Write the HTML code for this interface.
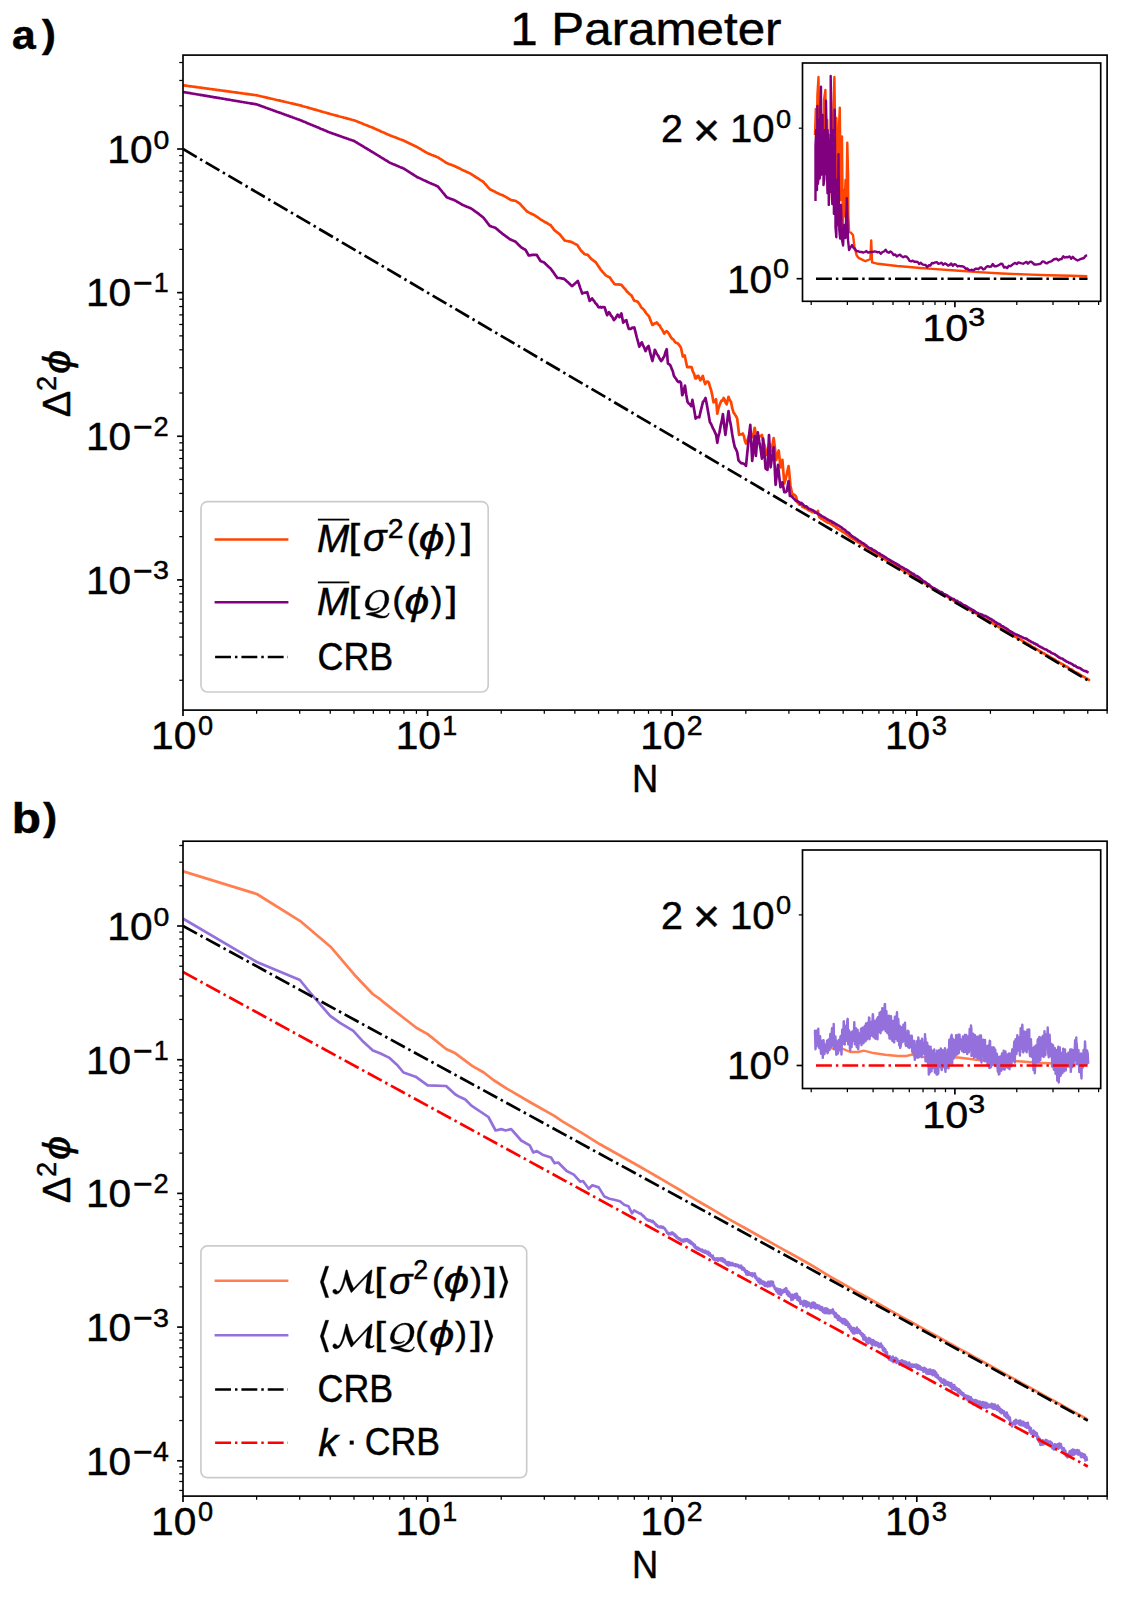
<!DOCTYPE html>
<html><head><meta charset="utf-8"><title>1 Parameter</title>
<style>html,body{margin:0;padding:0;background:#fff;overflow:hidden;}svg{display:block;}
text{font-kerning:none;}</style></head>
<body><svg width="1125" height="1597" viewBox="0 0 1125 1597">
<rect x="0" y="0" width="1125" height="1597" fill="#fff"/>
<text x="510.24" y="45.15" font-size="46.58" textLength="271.27" lengthAdjust="spacingAndGlyphs" style="font-family:&quot;Liberation Sans&quot;,sans-serif;stroke:#000;stroke-width:0.45px;" fill="#000">1 Parameter</text>
<text x="11.95" y="49.00" font-size="41.43" textLength="23.68" lengthAdjust="spacingAndGlyphs" style="font-family:&quot;Liberation Sans&quot;,sans-serif;font-weight:bold;stroke:#000;stroke-width:0.50px;" fill="#000">a</text>
<text x="41.96" y="46.74" font-size="38.84" textLength="13.81" lengthAdjust="spacingAndGlyphs" style="font-family:&quot;Liberation Sans&quot;,sans-serif;font-weight:bold;stroke:#000;stroke-width:0.50px;" fill="#000">)</text>
<text x="11.75" y="832.59" font-size="42.08" textLength="29.21" lengthAdjust="spacingAndGlyphs" style="font-family:&quot;Liberation Sans&quot;,sans-serif;font-weight:bold;stroke:#000;stroke-width:0.50px;" fill="#000">b</text>
<text x="43.36" y="829.87" font-size="38.19" textLength="13.81" lengthAdjust="spacingAndGlyphs" style="font-family:&quot;Liberation Sans&quot;,sans-serif;font-weight:bold;stroke:#000;stroke-width:0.50px;" fill="#000">)</text>
<defs><clipPath id="ca"><rect x="183.00" y="55.10" width="924.10" height="655.00"/></clipPath><clipPath id="cb"><rect x="183.00" y="841.20" width="924.10" height="654.90"/></clipPath><clipPath id="cia"><rect x="802.50" y="63.00" width="298.20" height="238.30"/></clipPath><clipPath id="cib"><rect x="802.50" y="850.00" width="298.20" height="238.50"/></clipPath></defs>
<g clip-path="url(#ca)">
<path d="M183.2,85.3 L184.2,85.4 L185.2,85.6 L186.2,85.7 L187.2,85.8 L188.2,86.0 L189.2,86.1 L190.3,86.3 L191.3,86.4 L192.3,86.5 L193.3,86.7 L194.3,86.8 L195.3,86.9 L196.3,87.1 L197.3,87.2 L198.3,87.4 L199.3,87.5 L200.3,87.6 L201.3,87.8 L202.4,87.9 L203.4,88.0 L204.4,88.2 L205.4,88.3 L206.4,88.5 L207.4,88.6 L208.4,88.7 L209.4,88.9 L210.4,89.0 L211.4,89.1 L212.4,89.3 L213.4,89.4 L214.5,89.5 L215.5,89.7 L216.5,89.8 L217.5,90.0 L218.5,90.1 L219.5,90.2 L220.5,90.4 L221.5,90.5 L222.5,90.6 L223.5,90.8 L224.5,90.9 L225.5,91.1 L226.6,91.2 L227.6,91.3 L228.6,91.5 L229.6,91.6 L230.6,91.7 L231.6,91.9 L232.6,92.0 L233.6,92.1 L234.6,92.3 L235.6,92.4 L236.6,92.6 L237.6,92.7 L238.7,92.8 L239.7,93.0 L240.7,93.1 L241.7,93.2 L242.7,93.4 L243.7,93.5 L244.7,93.7 L245.7,93.8 L246.7,93.9 L247.7,94.1 L248.7,94.2 L249.7,94.3 L250.8,94.5 L251.8,94.6 L252.8,94.8 L253.8,94.9 L254.8,95.0 L255.8,95.2 L256.8,95.3 L257.8,95.5 L258.8,95.8 L259.8,96.0 L260.8,96.2 L261.8,96.5 L262.8,96.7 L263.8,96.9 L264.8,97.2 L265.8,97.4 L266.8,97.6 L267.8,97.9 L268.8,98.1 L269.8,98.3 L270.8,98.6 L271.8,98.8 L272.8,99.0 L273.8,99.3 L274.8,99.5 L275.8,99.7 L276.8,100.0 L277.8,100.2 L278.9,100.4 L279.9,100.6 L280.9,100.9 L281.9,101.1 L282.9,101.3 L283.9,101.6 L284.9,101.8 L285.9,102.0 L286.9,102.3 L287.9,102.5 L288.9,102.7 L289.9,103.0 L290.9,103.2 L291.9,103.4 L292.9,103.7 L293.9,103.9 L294.9,104.1 L295.9,104.4 L296.9,104.6 L297.9,104.8 L298.9,105.1 L299.9,105.3 L300.9,105.6 L301.9,105.9 L302.9,106.2 L304.0,106.5 L305.0,106.8 L306.0,107.0 L307.0,107.3 L308.0,107.6 L309.0,107.9 L310.1,108.2 L311.1,108.5 L312.1,108.8 L313.1,109.1 L314.1,109.4 L315.1,109.7 L316.2,109.9 L317.2,110.2 L318.2,110.5 L319.2,110.8 L320.2,111.1 L321.2,111.4 L322.3,111.7 L323.3,112.0 L324.3,112.3 L325.3,112.5 L326.3,112.8 L327.3,113.1 L328.4,113.4 L329.4,113.7 L330.4,114.0 L331.4,114.3 L332.5,114.5 L333.5,114.8 L334.5,115.1 L335.6,115.4 L336.6,115.6 L337.6,115.9 L338.6,116.2 L339.7,116.5 L340.7,116.7 L341.7,117.0 L342.8,117.3 L343.8,117.6 L344.8,117.8 L345.9,118.1 L346.9,118.4 L347.9,118.7 L348.9,118.9 L350.0,119.2 L351.0,119.5 L352.0,119.8 L353.1,120.0 L354.1,120.3 L355.1,120.7 L356.1,121.1 L357.2,121.5 L358.2,121.9 L359.2,122.3 L360.2,122.7 L361.2,123.1 L362.3,123.5 L363.3,123.9 L364.3,124.4 L365.3,124.8 L366.4,125.2 L367.4,125.6 L368.4,126.0 L369.4,126.4 L370.4,126.8 L371.5,127.2 L372.5,127.6 L373.5,128.0 L374.5,128.5 L375.5,128.9 L376.6,129.4 L377.6,129.8 L378.6,130.3 L379.6,130.7 L380.6,131.2 L381.6,131.7 L382.7,132.1 L383.7,132.6 L384.7,133.0 L385.7,133.5 L386.7,133.9 L387.8,134.4 L388.8,134.8 L389.8,135.3 L390.8,135.7 L391.8,136.1 L392.8,136.5 L393.9,136.8 L394.9,137.2 L395.9,137.6 L396.9,138.0 L397.9,138.4 L398.9,138.8 L399.9,139.2 L401.0,139.5 L402.0,139.9 L403.0,140.3 L404.0,140.7 L405.0,141.2 L406.1,141.7 L407.1,142.2 L408.2,142.7 L409.2,143.2 L410.2,143.7 L411.3,144.2 L412.3,144.7 L413.4,145.2 L414.4,145.7 L415.5,146.2 L416.5,146.7 L417.5,147.3 L418.5,147.9 L419.6,148.5 L420.6,149.1 L421.6,149.7 L422.6,150.3 L423.6,150.9 L424.6,151.5 L425.7,152.1 L426.7,152.7 L427.7,153.3 L428.7,153.7 L429.7,154.1 L430.7,154.5 L431.7,154.9 L432.8,155.3 L433.8,155.7 L434.8,156.1 L435.8,156.5 L436.8,156.9 L437.8,157.3 L438.8,157.9 L439.8,158.6 L440.8,159.2 L441.8,159.9 L442.8,160.5 L443.8,161.2 L444.8,161.8 L445.8,162.5 L446.8,163.1 L447.8,163.5 L448.8,163.9 L449.8,164.3 L450.9,164.6 L451.9,165.0 L452.9,165.4 L453.9,165.8 L454.9,166.2 L456.0,166.7 L457.0,167.3 L458.1,167.8 L459.2,168.3 L460.3,168.8 L461.3,169.4 L462.4,169.9 L463.4,170.4 L464.4,170.8 L465.4,171.3 L466.4,171.8 L467.5,172.2 L468.5,172.7 L469.5,173.1 L470.5,173.6 L471.6,174.3 L472.8,175.1 L473.9,175.8 L475.0,176.5 L476.2,177.3 L477.3,178.0 L478.4,178.7 L479.4,179.4 L480.5,180.1 L481.5,180.7 L482.6,181.4 L483.6,182.1 L484.6,183.3 L485.7,184.5 L486.7,185.6 L487.7,186.8 L488.8,188.0 L489.8,189.2 L490.9,189.7 L491.9,190.3 L493.0,190.8 L494.0,191.3 L495.1,191.8 L496.1,192.4 L497.2,192.9 L498.3,193.4 L499.3,193.9 L500.4,194.4 L501.5,194.8 L502.6,195.3 L503.6,195.8 L504.7,196.3 L505.7,196.9 L506.8,197.5 L507.8,198.2 L508.8,198.8 L509.9,199.4 L510.9,200.0 L511.9,200.2 L512.9,200.4 L513.9,200.6 L514.9,200.8 L515.9,201.0 L517.1,201.8 L518.4,202.7 L519.6,203.5 L520.7,204.7 L521.7,205.8 L522.8,207.0 L523.9,208.1 L525.0,209.3 L526.0,210.4 L527.1,211.6 L528.2,212.1 L529.2,212.7 L530.3,213.2 L531.4,213.7 L532.5,214.2 L533.5,214.8 L534.6,215.3 L535.7,216.0 L536.7,216.7 L537.8,217.4 L538.8,218.2 L539.9,218.9 L540.9,219.6 L542.0,220.3 L543.1,220.9 L544.2,221.6 L545.3,222.2 L546.4,222.8 L547.5,223.4 L548.6,224.1 L549.7,224.7 L550.8,225.3 L551.9,226.9 L553.1,228.4 L554.2,230.0 L555.3,230.9 L556.4,231.8 L557.6,232.6 L558.7,233.5 L559.8,234.4 L560.8,235.6 L561.8,236.9 L562.8,238.1 L563.8,239.4 L564.8,240.6 L565.8,240.8 L566.9,241.0 L567.9,241.2 L568.9,241.4 L570.0,241.6 L571.0,241.8 L572.0,242.3 L573.1,242.8 L574.1,243.4 L575.1,243.9 L576.2,244.4 L577.2,244.9 L578.4,246.8 L579.7,248.6 L580.9,250.5 L582.2,251.8 L583.4,253.0 L584.7,254.3 L585.7,254.5 L586.8,254.7 L587.8,254.9 L588.8,256.1 L589.9,257.4 L590.9,258.6 L591.9,259.4 L592.9,260.1 L593.9,260.9 L594.9,261.6 L595.9,262.4 L597.1,264.2 L598.3,266.1 L599.6,267.9 L600.8,269.8 L601.8,270.9 L602.8,272.1 L603.8,273.2 L604.8,274.3 L605.8,275.4 L607.1,276.1 L608.3,276.7 L609.6,277.3 L610.8,278.9 L612.0,280.7 L613.3,282.5 L614.5,284.1 L615.6,284.3 L616.8,284.5 L618.0,284.3 L619.1,284.6 L620.2,284.6 L621.4,284.8 L622.5,286.2 L623.6,287.6 L624.8,288.7 L625.9,290.1 L627.0,291.6 L628.1,292.4 L629.1,293.7 L630.2,294.5 L631.3,295.3 L632.3,297.0 L633.4,299.2 L634.4,300.9 L635.5,300.9 L636.5,301.4 L637.6,301.6 L638.6,303.0 L639.7,304.5 L640.7,306.5 L641.8,308.0 L642.8,308.6 L643.9,309.8 L644.9,311.2 L646.0,313.0 L647.0,314.3 L648.1,315.2 L649.2,316.8 L650.3,319.9 L651.3,322.2 L652.4,324.9 L653.5,324.4 L654.5,323.4 L655.6,323.5 L656.7,322.4 L657.7,323.6 L658.8,325.0 L659.8,325.5 L660.9,328.0 L662.0,329.3 L663.1,331.4 L664.2,333.6 L665.5,332.0 L666.7,331.1 L667.8,332.2 L668.9,333.7 L669.9,335.5 L671.0,337.3 L672.3,338.9 L673.5,339.6 L674.8,341.7 L676.0,342.8 L677.3,343.1 L678.5,344.2 L679.8,345.8 L681.0,347.9 L682.8,356.6 L684.7,355.4 L686.0,361.8 L687.2,367.2 L688.3,367.2 L689.4,366.9 L690.5,367.2 L691.6,367.2 L692.8,371.3 L694.1,373.9 L695.3,378.4 L696.3,378.4 L697.4,375.9 L698.4,375.9 L700.3,380.3 L701.5,378.6 L702.8,375.9 L704.0,380.6 L705.2,384.0 L706.5,381.9 L707.7,381.5 L709.0,383.0 L710.0,387.0 L711.1,390.0 L712.4,395.9 L713.6,402.4 L714.9,401.0 L716.1,399.3 L717.3,413.6 L718.3,409.1 L719.4,405.6 L720.4,403.0 L721.5,400.7 L722.5,400.6 L723.6,398.0 L724.6,399.5 L725.7,402.7 L726.7,404.3 L728.5,396.8 L729.8,400.2 L731.0,401.8 L732.2,408.0 L733.5,412.4 L734.7,414.1 L736.0,416.2 L737.2,418.6 L739.1,434.8 L740.3,434.4 L741.6,434.5 L742.8,433.5 L743.9,436.0 L744.9,440.7 L746.0,443.5 L747.2,440.8 L748.5,437.6 L749.7,433.5 L751.0,434.3 L752.2,437.2 L753.5,433.5 L754.7,427.9 L756.5,437.2 L757.5,436.1 L758.6,436.4 L759.6,436.6 L760.8,436.0 L761.9,435.0 L763.1,440.9 L764.4,444.9 L765.6,449.5 L766.8,454.9 L768.0,450.2 L769.3,443.7 L771.2,451.2 L772.5,444.7 L773.7,438.1 L775.0,448.6 L776.2,459.9 L777.5,454.8 L778.7,450.5 L780.5,467.3 L782.4,459.9 L784.3,483.5 L786.1,477.3 L787.4,471.0 L788.6,466.1 L790.5,486.0 L792.4,494.7 L793.6,494.4 L794.9,495.2 L796.1,496.6 L797.3,502.2 L798.3,503.4 L799.4,504.7 L800.5,504.2 L801.5,504.9 L802.5,507.0 L803.6,507.2 L804.7,507.9 L805.8,508.3 L806.9,508.8 L808.0,509.7 L809.0,510.5 L810.1,510.8 L811.2,511.4 L812.3,512.1 L813.4,512.0 L814.5,512.7 L815.5,512.3 L816.6,512.8 L817.9,510.9 L819.1,517.1 L820.2,517.8 L821.4,518.8 L822.5,519.1 L823.7,520.2 L824.9,521.0 L826.0,521.5 L827.0,522.1 L828.1,522.7 L829.1,522.8 L830.1,523.5 L831.2,523.9 L832.2,524.6 L833.3,525.5 L834.3,525.9 L835.4,526.7 L836.4,527.8 L837.5,528.4 L838.5,529.2 L839.6,529.6 L840.7,530.3 L841.7,531.1 L842.8,531.9 L843.9,532.5 L844.9,533.2 L846.0,534.0 L847.0,534.5 L848.1,535.4 L849.2,536.5 L850.2,537.2 L851.3,537.7 L852.3,538.4 L853.3,539.0 L854.4,539.6 L855.4,540.1 L856.4,540.8 L857.4,541.8 L858.4,542.5 L859.4,542.8 L860.5,543.7 L861.5,544.4 L862.5,545.0 L863.5,545.6 L864.5,546.3 L865.5,546.7 L866.6,547.6 L867.6,548.0 L868.6,548.8 L869.6,549.6 L870.6,550.2 L871.6,550.6 L872.7,551.6 L873.7,552.1 L874.7,552.7 L875.7,553.0 L876.7,554.0 L877.7,554.5 L878.8,555.4 L879.8,555.9 L880.8,556.8 L881.8,557.3 L882.8,558.1 L883.8,558.5 L884.9,559.3 L885.9,560.0 L886.9,560.5 L887.9,561.3 L888.9,561.6 L889.9,562.5 L890.9,563.2 L892.0,563.7 L893.0,564.5 L894.0,565.1 L895.0,565.4 L896.0,566.0 L897.0,566.4 L898.0,567.4 L899.0,568.1 L900.0,568.4 L901.1,569.2 L902.1,569.8 L903.1,570.4 L904.1,570.7 L905.1,571.7 L906.1,572.2 L907.1,572.8 L908.1,573.3 L909.1,574.0 L910.2,574.7 L911.2,575.2 L912.2,575.9 L913.2,576.1 L914.2,576.8 L915.2,577.6 L916.2,578.3 L917.2,578.7 L918.2,579.6 L919.3,580.1 L920.3,580.4 L921.3,581.3 L922.3,581.7 L923.3,582.2 L924.3,582.9 L925.3,583.6 L926.3,584.1 L927.3,584.8 L928.4,585.3 L929.4,586.1 L930.4,586.7 L931.4,587.5 L932.4,588.0 L933.4,588.7 L934.5,589.1 L935.5,590.1 L936.6,590.1 L937.6,591.0 L938.7,591.5 L939.8,592.2 L940.8,592.6 L941.9,593.7 L942.9,594.0 L944.0,594.4 L945.0,595.3 L946.0,596.0 L947.0,596.2 L948.0,597.1 L949.0,597.6 L950.0,598.3 L951.0,599.1 L952.0,599.6 L953.0,600.0 L954.0,600.8 L955.0,601.3 L956.0,601.7 L957.0,602.4 L958.0,602.7 L959.0,603.6 L960.0,604.2 L961.0,605.0 L962.0,605.6 L963.0,606.0 L964.0,606.4 L965.0,607.3 L966.0,607.4 L967.0,608.0 L968.0,608.9 L969.0,609.4 L970.0,610.1 L971.0,610.4 L972.0,611.3 L973.0,612.0 L974.0,612.3 L975.0,612.9 L976.0,613.4 L977.0,614.0 L978.0,615.0 L979.0,615.2 L980.0,616.2 L981.0,616.5 L982.0,617.3 L983.0,617.7 L984.0,618.1 L985.0,619.1 L986.0,619.4 L987.0,619.9 L988.0,620.5 L989.0,621.5 L990.0,621.7 L991.0,622.2 L992.0,622.9 L993.0,623.5 L994.0,623.9 L995.0,624.8 L996.0,625.2 L997.0,625.7 L998.0,626.6 L999.0,627.2 L1000.0,627.3 L1001.0,628.2 L1002.0,628.7 L1003.0,629.6 L1004.0,630.1 L1005.0,630.6 L1006.0,631.0 L1007.0,631.6 L1008.0,632.1 L1009.0,633.2 L1010.0,633.4 L1011.0,634.2 L1012.0,634.7 L1013.0,635.3 L1014.0,635.9 L1015.0,636.6 L1016.0,636.8 L1017.0,637.6 L1018.0,638.4 L1019.0,638.7 L1020.0,639.4 L1021.0,639.9 L1022.0,640.4 L1023.0,641.2 L1024.0,641.7 L1025.0,642.2 L1026.0,643.0 L1027.0,643.5 L1028.0,643.8 L1029.0,644.7 L1030.0,645.1 L1031.0,645.8 L1032.0,646.7 L1033.0,647.2 L1034.0,647.6 L1035.0,647.9 L1036.0,648.9 L1037.0,649.3 L1038.0,650.0 L1039.0,650.7 L1040.0,651.2 L1041.0,651.7 L1042.0,652.3 L1043.0,653.1 L1044.0,653.4 L1045.0,654.0 L1046.0,654.9 L1047.0,655.1 L1048.0,655.7 L1049.0,656.6 L1050.0,656.7 L1051.0,657.8 L1052.0,658.3 L1053.0,658.8 L1054.0,659.3 L1055.0,659.8 L1056.0,660.7 L1057.0,661.4 L1058.0,661.5 L1059.0,662.3 L1060.0,662.9 L1061.0,663.5 L1062.0,663.9 L1063.0,664.4 L1064.0,665.3 L1065.0,665.8 L1066.0,666.6 L1067.0,666.7 L1068.0,667.4 L1069.0,668.3 L1070.0,668.9 L1071.0,669.4 L1072.0,669.6 L1073.0,670.6 L1074.0,671.4 L1075.0,672.0 L1076.0,672.4 L1077.0,672.9 L1078.0,673.2 L1079.0,674.2 L1080.0,674.5 L1081.0,675.3 L1082.0,676.1 L1083.0,676.5 L1084.0,676.8 L1085.0,677.4 L1086.0,678.4 L1087.0,678.5 L1088.0,679.4 L1089.0,679.9 L1088.0,679.7" fill="none" stroke="#ff4500" stroke-width="2.70" stroke-linejoin="round" stroke-linecap="butt"/>
<path d="M183.2,92.0 L184.2,92.2 L185.2,92.3 L186.2,92.5 L187.2,92.7 L188.2,92.8 L189.2,93.0 L190.3,93.2 L191.3,93.4 L192.3,93.5 L193.3,93.7 L194.3,93.9 L195.3,94.0 L196.3,94.2 L197.3,94.4 L198.3,94.5 L199.3,94.7 L200.3,94.9 L201.3,95.1 L202.4,95.2 L203.4,95.4 L204.4,95.6 L205.4,95.7 L206.4,95.9 L207.4,96.1 L208.4,96.2 L209.4,96.4 L210.4,96.6 L211.4,96.8 L212.4,96.9 L213.4,97.1 L214.5,97.3 L215.5,97.4 L216.5,97.6 L217.5,97.8 L218.5,97.9 L219.5,98.1 L220.5,98.3 L221.5,98.5 L222.5,98.6 L223.5,98.8 L224.5,99.0 L225.5,99.1 L226.6,99.3 L227.6,99.5 L228.6,99.6 L229.6,99.8 L230.6,100.0 L231.6,100.2 L232.6,100.3 L233.6,100.5 L234.6,100.7 L235.6,100.8 L236.6,101.0 L237.6,101.2 L238.7,101.3 L239.7,101.5 L240.7,101.7 L241.7,101.9 L242.7,102.0 L243.7,102.2 L244.7,102.4 L245.7,102.5 L246.7,102.7 L247.7,102.9 L248.7,103.0 L249.7,103.2 L250.8,103.4 L251.8,103.6 L252.8,103.7 L253.8,103.9 L254.8,104.1 L255.8,104.2 L256.8,104.4 L257.8,104.8 L258.8,105.1 L259.8,105.5 L260.8,105.9 L261.8,106.2 L262.8,106.6 L263.8,106.9 L264.8,107.3 L265.8,107.7 L266.8,108.0 L267.8,108.4 L268.8,108.8 L269.8,109.1 L270.8,109.5 L271.8,109.8 L272.8,110.2 L273.8,110.6 L274.8,110.9 L275.8,111.3 L276.8,111.7 L277.8,112.0 L278.9,112.4 L279.9,112.7 L280.9,113.1 L281.9,113.5 L282.9,113.8 L283.9,114.2 L284.9,114.6 L285.9,114.9 L286.9,115.3 L287.9,115.6 L288.9,116.0 L289.9,116.4 L290.9,116.7 L291.9,117.1 L292.9,117.5 L293.9,117.8 L294.9,118.2 L295.9,118.5 L296.9,118.9 L297.9,119.3 L298.9,119.6 L299.9,120.0 L300.9,120.4 L301.9,120.8 L302.9,121.3 L304.0,121.7 L305.0,122.1 L306.0,122.5 L307.0,123.0 L308.0,123.4 L309.0,123.8 L310.1,124.2 L311.1,124.7 L312.1,125.1 L313.1,125.5 L314.1,125.9 L315.1,126.3 L316.2,126.8 L317.2,127.2 L318.2,127.6 L319.2,128.0 L320.2,128.5 L321.2,128.9 L322.3,129.3 L323.3,129.7 L324.3,130.2 L325.3,130.6 L326.3,131.0 L327.3,131.4 L328.4,131.9 L329.4,132.3 L330.4,132.7 L331.4,133.1 L332.5,133.4 L333.5,133.8 L334.5,134.1 L335.6,134.5 L336.6,134.9 L337.6,135.2 L338.6,135.6 L339.7,135.9 L340.7,136.3 L341.7,136.7 L342.8,137.0 L343.8,137.4 L344.8,137.8 L345.9,138.1 L346.9,138.5 L347.9,138.8 L348.9,139.2 L350.0,139.6 L351.0,139.9 L352.0,140.3 L353.1,140.6 L354.1,141.0 L355.1,141.6 L356.1,142.2 L357.2,142.8 L358.2,143.5 L359.2,144.1 L360.2,144.7 L361.2,145.3 L362.3,145.9 L363.3,146.5 L364.3,147.2 L365.3,147.8 L366.4,148.4 L367.4,149.0 L368.4,149.6 L369.4,150.2 L370.4,150.9 L371.5,151.5 L372.5,152.1 L373.5,152.7 L374.5,153.3 L375.5,153.9 L376.6,154.6 L377.6,155.2 L378.6,155.8 L379.6,156.4 L380.6,157.1 L381.6,157.7 L382.7,158.3 L383.7,158.9 L384.7,159.6 L385.7,160.2 L386.7,160.8 L387.8,161.4 L388.8,162.1 L389.8,162.7 L390.8,163.1 L391.8,163.6 L392.8,164.0 L393.9,164.4 L394.9,164.8 L395.9,165.3 L396.9,165.7 L397.9,166.1 L398.9,166.6 L399.9,167.0 L401.0,167.4 L402.0,167.8 L403.0,168.3 L404.0,168.7 L405.0,169.4 L406.1,170.0 L407.1,170.7 L408.2,171.4 L409.2,172.0 L410.2,172.7 L411.3,173.4 L412.3,174.0 L413.4,174.7 L414.4,175.4 L415.5,176.0 L416.5,176.7 L417.5,177.2 L418.5,177.7 L419.6,178.1 L420.6,178.6 L421.6,179.1 L422.6,179.6 L423.6,180.1 L424.6,180.6 L425.7,181.0 L426.7,181.5 L427.7,182.0 L428.7,182.4 L429.7,182.9 L430.7,183.3 L431.7,183.8 L432.8,184.2 L433.8,184.6 L434.8,185.1 L435.8,185.5 L436.8,186.0 L437.8,186.4 L438.8,187.6 L439.8,188.8 L440.8,190.0 L441.8,191.2 L442.8,192.5 L443.8,193.7 L444.8,194.9 L445.8,196.1 L446.8,197.3 L447.8,197.7 L448.8,198.1 L449.8,198.5 L450.9,198.9 L451.9,199.2 L452.9,199.6 L453.9,200.0 L454.9,200.4 L456.0,201.0 L457.0,201.7 L458.1,202.3 L459.2,202.9 L460.3,203.5 L461.3,204.2 L462.4,204.8 L463.5,205.3 L464.6,205.7 L465.7,206.2 L466.8,206.7 L467.8,207.1 L468.9,207.6 L470.0,208.0 L471.1,208.5 L472.1,209.2 L473.2,209.9 L474.2,210.7 L475.2,211.4 L476.3,212.1 L477.3,212.8 L478.4,213.6 L479.4,214.5 L480.5,215.3 L481.5,216.1 L482.6,217.0 L483.6,217.8 L484.6,219.2 L485.7,220.5 L486.7,221.9 L487.7,223.2 L488.8,224.6 L489.8,225.9 L490.9,226.3 L492.0,226.7 L493.2,227.0 L494.3,227.4 L495.4,227.8 L496.5,228.8 L497.7,229.7 L498.8,230.7 L499.9,231.7 L501.1,232.6 L502.2,233.6 L503.3,234.4 L504.4,235.2 L505.5,236.0 L506.7,236.9 L507.8,237.7 L508.9,238.5 L510.0,239.3 L511.1,239.8 L512.2,240.3 L513.4,240.8 L514.5,241.3 L515.6,241.8 L516.7,242.9 L517.8,244.0 L519.0,245.2 L520.1,246.3 L521.2,247.4 L522.3,248.0 L523.4,248.7 L524.5,249.3 L525.6,249.9 L526.6,251.8 L527.7,253.6 L528.7,255.5 L529.9,255.3 L531.2,255.1 L532.4,254.9 L533.5,254.9 L534.6,254.9 L535.7,254.9 L536.8,254.9 L538.0,257.0 L539.3,259.0 L540.5,261.1 L541.7,261.6 L543.0,262.1 L544.2,262.6 L545.4,263.7 L546.5,264.8 L547.7,265.9 L548.8,267.0 L550.0,268.0 L551.1,269.2 L552.1,270.6 L553.2,272.1 L554.2,273.6 L555.2,275.1 L556.3,276.4 L557.3,277.9 L558.3,278.0 L559.4,278.0 L560.4,278.2 L561.4,278.3 L562.5,278.6 L563.5,278.5 L564.6,279.4 L565.7,280.2 L566.8,281.4 L567.9,282.1 L568.9,283.2 L570.0,284.1 L571.1,285.3 L572.2,286.0 L573.3,285.0 L574.4,284.1 L575.6,282.9 L576.7,282.0 L577.8,281.0 L578.9,284.0 L580.0,287.4 L581.1,290.4 L582.2,293.5 L583.2,293.0 L584.2,292.8 L585.2,292.6 L586.2,292.6 L587.2,292.2 L588.4,296.3 L589.6,300.9 L590.9,299.8 L592.1,298.4 L593.1,300.0 L594.2,301.0 L595.2,303.0 L596.3,303.9 L597.4,305.4 L598.4,307.2 L599.4,307.3 L600.5,306.9 L601.5,307.6 L602.5,307.2 L603.6,307.0 L604.6,307.2 L605.9,311.5 L607.1,315.2 L608.9,312.1 L609.9,313.2 L610.9,315.6 L611.9,316.4 L612.9,318.2 L613.9,320.2 L615.1,318.9 L616.4,316.7 L617.6,314.6 L619.5,317.1 L621.4,313.4 L623.2,322.7 L624.3,321.5 L625.3,320.5 L626.4,320.2 L627.6,325.2 L628.8,328.9 L629.9,328.8 L631.0,328.8 L632.1,327.5 L633.2,327.9 L634.3,327.4 L635.5,332.1 L636.8,337.3 L638.0,341.6 L639.3,346.7 L640.5,344.2 L641.8,342.3 L643.0,345.4 L644.3,347.8 L645.5,351.0 L646.5,349.1 L647.6,347.0 L648.6,346.0 L649.9,351.6 L651.1,356.3 L652.4,361.0 L653.6,356.0 L654.8,349.8 L655.8,351.5 L656.9,354.2 L658.0,355.4 L659.0,357.4 L660.0,359.3 L661.1,361.0 L662.1,360.0 L663.2,357.9 L664.2,356.6 L665.5,352.1 L666.7,349.2 L667.9,363.5 L669.8,364.7 L670.8,366.3 L671.8,369.1 L672.8,371.3 L673.8,375.5 L674.8,377.2 L676.0,378.8 L677.3,381.0 L678.5,382.1 L679.8,381.4 L681.0,382.8 L682.2,395.2 L682.5,394.9 L683.8,390.2 L685.0,385.6 L686.2,394.5 L687.5,401.8 L688.7,403.5 L690.0,404.5 L691.2,406.1 L692.4,399.9 L693.5,406.1 L694.5,411.5 L695.6,418.6 L696.8,417.4 L698.1,417.0 L699.3,417.3 L700.5,411.9 L701.8,406.7 L703.0,401.8 L704.2,400.7 L705.5,398.0 L706.6,403.3 L707.7,409.6 L708.8,415.7 L709.9,422.3 L710.9,423.6 L712.0,426.0 L713.0,428.5 L714.0,430.0 L715.1,432.7 L716.1,434.8 L717.3,442.8 L718.4,436.1 L719.5,432.3 L720.7,425.4 L721.8,420.9 L722.9,414.2 L724.1,424.9 L725.4,434.8 L726.4,427.3 L727.5,418.9 L728.5,411.1 L729.8,420.0 L731.0,426.1 L732.3,434.8 L733.5,441.4 L734.8,447.2 L736.0,449.2 L737.2,452.2 L738.5,460.3 L739.7,461.7 L741.0,462.9 L742.2,463.4 L743.5,463.5 L744.7,464.4 L746.0,465.9 L747.1,454.6 L748.1,444.8 L749.2,434.1 L750.3,424.8 L752.2,460.9 L753.5,448.2 L754.7,436.0 L755.9,455.9 L757.8,432.3 L759.2,441.5 L760.6,448.7 L761.9,458.6 L763.1,438.7 L764.4,453.4 L765.6,468.6 L767.5,469.8 L769.0,435.0 L770.6,467.3 L771.6,460.3 L772.7,454.0 L773.7,447.4 L775.6,484.8 L776.8,474.3 L778.0,464.8 L779.2,476.5 L780.5,487.2 L782.4,482.3 L784.3,492.2 L785.5,492.1 L786.8,491.0 L788.6,481.0 L789.9,496.0 L791.1,496.1 L792.4,497.0 L793.6,498.4 L794.8,499.6 L796.1,501.0 L797.3,500.9 L798.3,501.9 L799.4,502.2 L800.5,503.9 L801.5,503.0 L802.5,503.9 L803.6,505.3 L804.6,506.3 L805.7,506.4 L806.7,506.6 L807.7,507.8 L808.8,508.8 L809.8,509.0 L810.9,509.6 L812.1,510.1 L813.2,510.6 L814.3,511.2 L815.5,512.5 L816.6,512.8 L817.7,513.5 L818.8,514.6 L820.0,514.7 L821.1,515.6 L822.2,516.5 L823.3,516.8 L824.3,517.6 L825.4,518.0 L826.5,518.8 L827.6,519.5 L828.6,520.0 L829.7,520.8 L830.7,520.9 L831.7,521.4 L832.7,522.7 L833.7,522.5 L834.7,523.3 L835.8,524.0 L836.9,524.6 L838.0,525.4 L839.1,525.8 L840.2,526.7 L841.3,527.2 L842.4,528.2 L843.5,529.2 L844.6,529.6 L845.7,530.7 L846.8,531.9 L848.0,532.4 L849.1,533.2 L850.2,534.6 L851.3,535.6 L852.4,536.3 L853.6,537.1 L854.7,537.7 L855.9,538.6 L857.0,539.2 L858.0,540.1 L859.0,541.0 L860.0,541.2 L861.0,542.0 L862.0,543.0 L863.0,543.2 L864.0,543.9 L865.0,544.7 L866.0,545.3 L867.0,546.3 L868.1,547.2 L869.3,548.0 L870.4,548.3 L871.6,548.8 L872.7,549.8 L873.7,550.1 L874.7,550.8 L875.7,551.3 L876.8,552.2 L877.8,552.9 L878.8,553.3 L879.8,553.7 L880.8,554.9 L881.8,555.0 L882.8,555.7 L883.9,556.4 L884.9,557.1 L885.9,557.5 L886.9,558.4 L887.9,558.9 L889.0,559.4 L890.0,560.3 L891.0,560.8 L892.1,561.6 L893.1,562.0 L894.2,562.7 L895.2,563.1 L896.2,563.6 L897.3,564.5 L898.3,564.8 L899.3,565.6 L900.4,566.5 L901.4,566.9 L902.4,567.5 L903.5,567.8 L904.5,568.9 L905.6,569.2 L906.6,569.7 L907.6,570.3 L908.7,571.0 L909.7,571.9 L910.7,572.4 L911.8,573.3 L912.8,573.7 L913.8,574.1 L914.8,575.3 L915.9,575.8 L916.9,576.0 L917.9,576.7 L918.9,577.4 L920.0,578.2 L921.0,579.0 L922.0,580.1 L923.1,580.9 L924.1,581.4 L925.1,581.9 L926.2,582.8 L927.2,583.5 L928.3,584.3 L929.3,584.8 L930.3,586.0 L931.4,587.0 L932.4,587.5 L933.4,588.2 L934.4,588.3 L935.4,589.2 L936.5,589.5 L937.5,590.5 L938.5,590.8 L939.5,591.8 L940.5,592.2 L941.5,592.2 L942.5,592.9 L943.6,594.0 L944.6,594.2 L945.6,594.7 L946.6,595.3 L947.6,595.8 L948.7,596.7 L949.7,597.4 L950.7,597.7 L951.8,598.6 L952.8,598.9 L953.9,599.1 L954.9,600.2 L955.9,600.5 L957.0,600.8 L958.0,601.7 L959.0,602.7 L960.1,602.5 L961.1,603.5 L962.1,604.0 L963.2,605.0 L964.2,605.2 L965.3,605.6 L966.3,606.2 L967.3,606.8 L968.4,607.7 L969.4,608.2 L970.5,608.7 L971.5,609.6 L972.6,609.8 L973.6,610.5 L974.7,611.1 L975.8,612.3 L976.8,612.8 L977.9,613.1 L978.9,613.8 L980.0,614.1 L981.0,614.4 L982.0,614.6 L983.1,615.6 L984.1,615.8 L985.2,615.9 L986.2,616.5 L987.2,616.9 L988.3,617.8 L989.3,618.1 L990.3,619.1 L991.4,619.2 L992.4,620.3 L993.5,620.6 L994.5,621.5 L995.6,622.3 L996.6,622.8 L997.6,623.6 L998.7,623.9 L999.7,624.2 L1000.8,625.3 L1001.8,626.0 L1002.9,626.3 L1003.9,627.1 L1004.9,627.7 L1006.0,628.2 L1007.0,629.0 L1008.1,629.7 L1009.1,630.5 L1010.2,631.3 L1011.2,631.8 L1012.2,632.2 L1013.3,633.2 L1014.3,633.6 L1015.4,634.2 L1016.4,634.5 L1017.5,635.0 L1018.5,635.4 L1019.6,636.1 L1020.6,636.3 L1021.6,637.0 L1022.7,637.6 L1023.7,638.0 L1024.8,638.3 L1025.8,638.6 L1026.9,639.1 L1027.9,639.9 L1029.0,640.6 L1030.0,641.0 L1031.0,641.8 L1032.0,642.3 L1033.0,642.5 L1034.1,643.5 L1035.1,643.6 L1036.1,644.5 L1037.1,644.5 L1038.1,645.6 L1039.1,646.1 L1040.2,646.8 L1041.2,647.3 L1042.2,647.7 L1043.2,648.4 L1044.2,648.9 L1045.2,649.3 L1046.3,649.5 L1047.3,650.3 L1048.3,651.2 L1049.3,651.4 L1050.3,651.8 L1051.4,653.0 L1052.4,653.3 L1053.5,653.7 L1054.5,654.0 L1055.6,655.0 L1056.6,655.4 L1057.7,656.4 L1058.7,657.2 L1059.8,657.8 L1060.8,658.2 L1061.9,658.6 L1062.9,659.0 L1064.0,660.0 L1065.0,660.5 L1066.0,661.1 L1067.0,661.8 L1068.0,662.0 L1069.1,663.0 L1070.1,663.0 L1071.1,663.6 L1072.1,664.1 L1073.1,665.0 L1074.1,665.7 L1075.2,665.7 L1076.2,666.6 L1077.2,667.3 L1078.2,667.6 L1079.2,667.9 L1080.3,668.3 L1081.3,669.2 L1082.4,669.9 L1083.4,670.4 L1084.4,670.8 L1085.5,671.0 L1086.5,671.5 L1087.6,672.1 L1088.6,672.6" fill="none" stroke="#800080" stroke-width="2.70" stroke-linejoin="round" stroke-linecap="butt"/>
<path d="M183.0,149.0 L1087.8,680.3" fill="none" stroke="#000" stroke-width="2.70" stroke-linejoin="round" stroke-linecap="butt" stroke-dasharray="15.9 3.97 2.48 3.97"/>
</g>
<g clip-path="url(#cb)">
<path d="M183.2,871.3 L256.8,894.0 L299.9,920.8 L330.5,946.7 L354.4,974.7 L372.7,994.0 L380.0,999.2 L391.4,1008.4 L403.5,1017.7 L416.3,1027.7 L427.7,1034.1 L446.1,1049.0 L455.4,1053.3 L472.5,1066.1 L483.8,1072.5 L493.4,1080.0 L506.8,1088.6 L529.7,1102.0 L553.9,1115.6 L562.4,1121.3 L583.8,1134.1 L600.0,1144.3 L608.0,1148.8 L616.0,1153.3 L624.0,1157.8 L632.0,1162.2 L640.0,1166.7 L648.0,1171.4 L656.0,1176.0 L664.0,1180.7 L672.0,1185.3 L680.0,1190.0 L688.0,1195.1 L696.0,1199.8 L704.0,1204.5 L712.0,1209.2 L720.0,1213.9 L728.0,1218.6 L736.0,1223.1 L744.0,1227.5 L752.0,1232.0 L760.0,1236.5 L768.0,1240.9 L776.0,1245.4 L784.0,1249.9 L792.0,1254.3 L800.0,1258.8 L808.0,1263.2 L816.0,1268.0 L824.0,1272.8 L832.0,1277.6 L840.0,1282.1 L848.0,1286.7 L856.0,1291.3 L864.0,1295.8 L872.0,1300.3 L880.0,1304.8 L888.0,1309.2 L896.0,1313.6 L904.0,1318.1 L912.0,1322.5 L920.0,1326.9 L928.0,1331.4 L936.0,1335.8 L944.0,1340.2 L952.0,1344.7 L960.0,1349.1 L968.0,1353.5 L976.0,1357.9 L984.0,1362.3 L992.0,1366.7 L1000.0,1371.2 L1008.0,1375.6 L1016.0,1380.0 L1024.0,1384.4 L1032.0,1388.8 L1040.0,1393.2 L1048.0,1397.6 L1056.0,1402.0 L1064.0,1406.5 L1072.0,1410.9 L1080.0,1415.3 L1087.6,1419.5" fill="none" stroke="#ff7f50" stroke-width="2.70" stroke-linejoin="round" stroke-linecap="butt"/>
<path d="M183.2,918.7 L256.8,962.0 L299.9,980.0 L308.0,990.0 L317.8,1001.6 L330.2,1015.8 L340.0,1022.9 L353.3,1030.9 L362.2,1040.7 L372.9,1050.4 L380.0,1053.3 L389.0,1057.6 L396.9,1064.7 L403.5,1072.5 L415.6,1076.7 L427.7,1085.3 L446.1,1086.0 L455.4,1094.5 L460.0,1097.1 L465.3,1099.5 L471.4,1105.6 L488.4,1117.0 L495.6,1130.5 L501.3,1129.1 L505.5,1130.5 L511.2,1129.1 L521.2,1140.5 L529.7,1145.4 L533.3,1152.5 L536.8,1151.1 L542.5,1154.7 L551.0,1157.5 L554.6,1163.2 L558.2,1162.5 L566.7,1171.0 L573.8,1174.6 L580.2,1181.7 L583.0,1181.0 L588.7,1188.8 L592.3,1185.3 L598.7,1187.4 L604.4,1196.6 L609.4,1198.8 L614.2,1199.8 L619.9,1201.2 L624.2,1204.8 L628.4,1206.2 L632.0,1213.3 L634.1,1210.5 L640.0,1213.6 L640.8,1213.5 L641.5,1214.6 L642.2,1214.8 L643.0,1216.1 L643.8,1216.2 L644.5,1217.4 L645.2,1217.7 L646.0,1218.9 L646.8,1219.2 L647.5,1220.1 L648.2,1219.9 L649.0,1220.7 L649.8,1220.1 L650.5,1221.1 L651.2,1220.8 L652.0,1221.9 L652.8,1221.0 L653.5,1222.5 L654.2,1222.4 L655.0,1224.2 L655.8,1224.0 L656.5,1225.7 L657.2,1225.4 L658.0,1226.8 L658.8,1226.6 L659.5,1227.3 L660.2,1226.3 L661.0,1227.4 L661.8,1226.7 L662.5,1227.9 L663.2,1227.0 L664.0,1228.1 L664.8,1228.4 L665.5,1230.0 L666.2,1230.5 L667.0,1232.7 L667.8,1232.6 L668.5,1234.3 L669.2,1233.1 L670.0,1234.2 L670.8,1233.0 L671.5,1234.2 L672.2,1232.5 L673.0,1234.0 L673.8,1233.6 L674.5,1235.5 L675.2,1234.6 L676.0,1237.0 L676.8,1236.3 L677.5,1238.4 L678.2,1237.7 L679.0,1239.3 L679.8,1238.4 L680.5,1240.3 L681.2,1239.8 L682.0,1241.3 L682.8,1239.9 L683.5,1241.5 L684.2,1239.5 L685.0,1241.2 L685.8,1239.3 L686.5,1240.6 L687.2,1239.1 L688.0,1241.3 L688.8,1240.3 L689.5,1242.7 L690.2,1241.0 L691.0,1243.5 L691.8,1242.4 L692.5,1244.3 L693.2,1243.7 L694.0,1246.4 L694.8,1244.9 L695.5,1248.1 L696.2,1247.1 L697.0,1249.1 L697.8,1247.7 L698.5,1249.5 L699.2,1248.6 L700.0,1250.3 L700.8,1249.7 L701.5,1251.0 L702.2,1249.7 L703.0,1251.7 L703.8,1250.9 L704.5,1252.6 L705.2,1250.7 L706.0,1252.8 L706.8,1251.7 L707.5,1253.9 L708.2,1251.8 L709.0,1255.2 L709.8,1253.2 L710.5,1256.0 L711.2,1255.1 L712.0,1257.4 L712.8,1255.8 L713.5,1259.5 L714.2,1258.1 L715.0,1259.9 L715.8,1258.8 L716.5,1260.2 L717.2,1258.5 L718.0,1260.7 L718.8,1258.7 L719.5,1259.9 L720.2,1258.5 L721.0,1260.4 L721.8,1258.3 L722.5,1261.3 L723.2,1258.9 L724.0,1261.9 L724.8,1260.1 L725.5,1263.3 L726.2,1262.0 L727.0,1264.7 L727.8,1262.1 L728.5,1265.5 L729.2,1262.4 L730.0,1265.1 L730.8,1263.2 L731.5,1265.0 L732.2,1263.1 L733.0,1265.2 L733.8,1264.2 L734.5,1265.6 L735.2,1264.3 L736.0,1266.1 L736.8,1264.7 L737.5,1266.1 L738.2,1265.3 L739.0,1267.1 L739.8,1265.8 L740.5,1267.7 L741.2,1265.7 L742.0,1269.4 L742.8,1267.6 L743.5,1269.6 L744.2,1268.5 L745.0,1271.6 L745.8,1270.8 L746.5,1274.4 L747.2,1271.2 L748.0,1274.8 L748.8,1272.3 L749.5,1274.5 L750.2,1273.3 L751.0,1275.2 L751.8,1273.3 L752.5,1276.3 L753.2,1273.8 L754.0,1275.3 L754.8,1273.4 L755.5,1278.0 L756.2,1276.7 L757.0,1280.0 L757.8,1278.9 L758.5,1282.0 L759.2,1278.7 L760.0,1283.5 L760.8,1280.0 L761.5,1283.3 L762.2,1281.5 L763.0,1284.0 L763.8,1281.7 L764.5,1285.6 L765.2,1282.5 L766.0,1285.8 L766.8,1283.5 L767.5,1286.4 L768.2,1281.8 L769.0,1286.2 L769.8,1281.8 L770.5,1285.9 L771.2,1281.6 L772.0,1284.5 L772.8,1281.8 L773.5,1286.4 L774.2,1286.0 L775.0,1289.1 L775.8,1288.6 L776.5,1291.3 L777.2,1288.5 L778.0,1293.4 L778.8,1289.7 L779.5,1294.1 L780.2,1289.4 L781.0,1294.9 L781.8,1290.8 L782.5,1292.8 L783.2,1290.1 L784.0,1291.8 L784.8,1289.1 L785.5,1291.6 L786.2,1288.2 L787.0,1294.1 L787.8,1291.1 L788.5,1295.8 L789.2,1292.5 L790.0,1296.7 L790.8,1294.8 L791.5,1300.0 L792.2,1294.9 L793.0,1299.3 L793.8,1295.2 L794.5,1297.8 L795.2,1294.1 L796.0,1297.7 L796.8,1293.7 L797.5,1299.8 L798.2,1296.5 L799.0,1300.8 L799.8,1297.6 L800.5,1303.8 L801.2,1301.4 L802.0,1303.7 L802.8,1301.9 L803.5,1305.9 L804.2,1300.9 L805.0,1304.7 L805.8,1301.3 L806.5,1306.9 L807.2,1302.1 L808.0,1306.0 L808.8,1302.8 L809.5,1305.8 L810.2,1304.2 L811.0,1307.9 L811.8,1303.1 L812.5,1307.2 L813.2,1302.7 L814.0,1307.3 L814.8,1303.1 L815.5,1308.4 L816.2,1304.8 L817.0,1307.5 L817.8,1305.4 L818.5,1308.5 L819.2,1305.8 L820.0,1309.6 L820.8,1307.2 L821.5,1310.4 L822.2,1307.2 L823.0,1311.9 L823.8,1309.2 L824.5,1313.0 L825.2,1308.4 L826.0,1312.8 L826.8,1308.5 L827.5,1313.1 L828.2,1309.5 L829.0,1313.3 L829.8,1310.7 L830.5,1313.2 L831.2,1310.5 L832.0,1312.4 L832.8,1309.5 L833.5,1313.9 L834.2,1311.9 L835.0,1316.8 L835.8,1313.4 L836.5,1317.6 L837.2,1315.1 L838.0,1319.8 L838.8,1316.2 L839.5,1320.4 L840.2,1317.9 L841.0,1321.4 L841.8,1319.1 L842.5,1323.1 L843.2,1319.2 L844.0,1323.3 L844.8,1319.3 L845.5,1324.6 L846.2,1320.5 L847.0,1324.9 L847.8,1322.2 L848.5,1327.0 L849.2,1324.0 L850.0,1329.1 L850.8,1326.6 L851.5,1331.4 L852.2,1328.0 L853.0,1333.2 L853.8,1328.2 L854.5,1333.5 L855.2,1329.3 L856.0,1332.4 L856.8,1327.6 L857.5,1332.8 L858.2,1329.4 L859.0,1332.3 L859.8,1330.6 L860.5,1334.1 L861.2,1332.9 L862.0,1336.0 L862.8,1333.9 L863.5,1339.5 L864.2,1335.3 L865.0,1340.0 L865.8,1337.5 L866.5,1342.3 L867.2,1339.4 L868.0,1343.4 L868.8,1338.2 L869.5,1342.5 L870.2,1338.8 L871.0,1343.5 L871.8,1340.4 L872.5,1345.4 L873.2,1340.2 L874.0,1344.1 L874.8,1341.6 L875.5,1345.4 L876.2,1342.3 L877.0,1345.2 L877.8,1342.9 L878.5,1346.8 L879.2,1344.0 L880.0,1347.0 L880.8,1343.6 L881.5,1346.6 L882.2,1345.6 L883.0,1350.4 L883.8,1347.7 L884.5,1351.6 L885.2,1349.2 L886.0,1355.9 L886.8,1352.1 L887.5,1357.4 L888.2,1356.7 L889.0,1359.3 L889.8,1356.2 L890.5,1360.1 L891.2,1358.0 L892.0,1360.8 L892.8,1356.7 L893.5,1362.1 L894.2,1358.5 L895.0,1361.2 L895.8,1357.8 L896.5,1362.8 L897.2,1359.0 L898.0,1362.5 L898.8,1361.1 L899.5,1364.6 L900.2,1361.0 L901.0,1363.8 L901.8,1360.4 L902.5,1365.5 L903.2,1361.2 L904.0,1364.8 L904.8,1361.6 L905.5,1365.3 L906.2,1362.1 L907.0,1366.6 L907.8,1363.7 L908.5,1367.3 L909.2,1362.7 L910.0,1366.8 L910.8,1364.6 L911.5,1367.5 L912.2,1364.5 L913.0,1366.7 L913.8,1364.8 L914.5,1366.7 L915.2,1364.8 L916.0,1367.4 L916.8,1364.7 L917.5,1368.8 L918.2,1365.4 L919.0,1369.0 L919.8,1366.4 L920.5,1369.4 L921.2,1367.5 L922.0,1369.9 L922.8,1368.3 L923.5,1371.8 L924.2,1367.9 L925.0,1371.3 L925.8,1368.8 L926.5,1373.5 L927.2,1370.1 L928.0,1373.8 L928.8,1369.9 L929.5,1373.6 L930.2,1369.6 L931.0,1373.9 L931.8,1370.8 L932.5,1375.1 L933.2,1370.3 L934.0,1374.9 L934.8,1371.1 L935.5,1376.3 L936.2,1372.9 L937.0,1377.5 L937.8,1375.3 L938.5,1378.6 L939.2,1377.7 L940.0,1380.5 L940.8,1378.2 L941.5,1382.4 L942.2,1380.4 L943.0,1382.7 L943.8,1379.5 L944.5,1385.0 L945.2,1380.5 L946.0,1384.3 L946.8,1382.1 L947.5,1385.0 L948.2,1382.2 L949.0,1385.5 L949.8,1383.2 L950.5,1386.7 L951.2,1383.1 L952.0,1389.3 L952.8,1385.0 L953.5,1388.7 L954.2,1385.1 L955.0,1389.9 L955.8,1387.5 L956.5,1390.2 L957.2,1388.5 L958.0,1392.4 L958.8,1389.4 L959.5,1393.0 L960.2,1390.6 L961.0,1393.8 L961.8,1392.4 L962.5,1395.2 L963.2,1393.3 L964.0,1396.3 L964.8,1395.2 L965.5,1397.8 L966.2,1395.7 L967.0,1399.5 L967.8,1396.1 L968.5,1400.9 L969.2,1396.9 L970.0,1401.8 L970.8,1397.4 L971.5,1402.0 L972.2,1399.4 L973.0,1404.1 L973.8,1400.5 L974.5,1404.3 L975.2,1400.2 L976.0,1403.6 L976.8,1400.6 L977.5,1406.2 L978.2,1401.7 L979.0,1406.3 L979.8,1401.7 L980.5,1405.3 L981.2,1402.6 L982.0,1406.4 L982.8,1402.2 L983.5,1407.4 L984.2,1402.6 L985.0,1407.3 L985.8,1402.8 L986.5,1407.8 L987.2,1403.5 L988.0,1407.1 L988.8,1405.2 L989.5,1407.1 L990.2,1404.7 L991.0,1407.2 L991.8,1403.8 L992.5,1408.4 L993.2,1404.5 L994.0,1408.8 L994.8,1404.6 L995.5,1408.7 L996.2,1406.2 L997.0,1409.9 L997.8,1405.7 L998.5,1410.4 L999.2,1407.3 L1000.0,1411.9 L1000.8,1409.4 L1001.5,1413.2 L1002.2,1410.2 L1003.0,1412.9 L1003.8,1411.3 L1004.5,1415.6 L1005.2,1412.9 L1006.0,1417.1 L1006.8,1412.7 L1007.5,1418.1 L1008.2,1415.5 L1009.0,1419.6 L1009.8,1417.6 L1010.5,1424.7 L1011.2,1422.7 L1012.0,1426.4 L1012.8,1422.8 L1013.5,1424.1 L1014.2,1421.1 L1015.0,1424.1 L1015.8,1419.9 L1016.5,1423.5 L1017.2,1421.0 L1018.0,1422.8 L1018.8,1420.9 L1019.5,1424.7 L1020.2,1420.5 L1021.0,1425.2 L1021.8,1421.9 L1022.5,1425.3 L1023.2,1421.9 L1024.0,1425.6 L1024.8,1423.1 L1025.5,1427.0 L1026.2,1423.4 L1027.0,1427.7 L1027.8,1422.9 L1028.5,1427.8 L1029.2,1426.6 L1030.0,1432.1 L1030.8,1428.1 L1031.5,1433.9 L1032.2,1431.4 L1033.0,1434.3 L1033.8,1430.7 L1034.5,1435.1 L1035.2,1432.3 L1036.0,1435.7 L1036.8,1433.2 L1037.5,1439.1 L1038.2,1436.8 L1039.0,1441.8 L1039.8,1438.9 L1040.5,1444.9 L1041.2,1441.3 L1042.0,1444.5 L1042.8,1440.3 L1043.5,1444.5 L1044.2,1441.6 L1045.0,1442.8 L1045.8,1440.0 L1046.5,1443.2 L1047.2,1440.6 L1048.0,1443.6 L1048.8,1441.6 L1049.5,1445.0 L1050.2,1441.6 L1051.0,1445.4 L1051.8,1442.9 L1052.5,1448.3 L1053.2,1445.3 L1054.0,1449.5 L1054.8,1444.3 L1055.5,1449.1 L1056.2,1444.9 L1057.0,1447.6 L1057.8,1444.3 L1058.5,1448.6 L1059.2,1443.5 L1060.0,1446.8 L1060.8,1444.1 L1061.5,1448.4 L1062.2,1447.5 L1063.0,1450.5 L1063.8,1448.3 L1064.5,1453.4 L1065.2,1450.5 L1066.0,1455.8 L1066.8,1454.5 L1067.5,1457.3 L1068.2,1453.9 L1069.0,1456.1 L1069.8,1451.3 L1070.5,1456.3 L1071.2,1450.7 L1072.0,1454.9 L1072.8,1449.7 L1073.5,1455.0 L1074.2,1450.0 L1075.0,1453.9 L1075.8,1450.5 L1076.5,1453.5 L1077.2,1450.0 L1078.0,1454.5 L1078.8,1450.5 L1079.5,1454.5 L1080.2,1452.8 L1081.0,1456.9 L1081.8,1453.6 L1082.5,1456.9 L1083.2,1454.2 L1084.0,1457.7 L1084.8,1454.7 L1085.5,1460.5 L1086.2,1457.0 L1087.0,1461.1" fill="none" stroke="#9370db" stroke-width="2.70" stroke-linejoin="round" stroke-linecap="butt"/>
<path d="M183.0,926.0 L1087.8,1420.6" fill="none" stroke="#000" stroke-width="2.70" stroke-linejoin="round" stroke-linecap="butt" stroke-dasharray="15.9 3.97 2.48 3.97"/>
<path d="M183.0,972.0 L1087.8,1466.5" fill="none" stroke="#ff0000" stroke-width="2.70" stroke-linejoin="round" stroke-linecap="butt" stroke-dasharray="15.9 3.97 2.48 3.97"/>
</g>
<rect x="183.00" y="55.10" width="924.10" height="655.00" fill="none" stroke="#000" stroke-width="1.67" stroke-linejoin="miter"/>
<rect x="183.00" y="841.20" width="924.10" height="654.90" fill="none" stroke="#000" stroke-width="1.67" stroke-linejoin="miter"/>
<line x1="183.00" y1="710.10" x2="183.00" y2="716.00" stroke="#000" stroke-width="1.67"/>
<line x1="256.63" y1="710.10" x2="256.63" y2="713.80" stroke="#000" stroke-width="1.25"/>
<line x1="299.70" y1="710.10" x2="299.70" y2="713.80" stroke="#000" stroke-width="1.25"/>
<line x1="330.26" y1="710.10" x2="330.26" y2="713.80" stroke="#000" stroke-width="1.25"/>
<line x1="353.97" y1="710.10" x2="353.97" y2="713.80" stroke="#000" stroke-width="1.25"/>
<line x1="373.34" y1="710.10" x2="373.34" y2="713.80" stroke="#000" stroke-width="1.25"/>
<line x1="389.71" y1="710.10" x2="389.71" y2="713.80" stroke="#000" stroke-width="1.25"/>
<line x1="403.90" y1="710.10" x2="403.90" y2="713.80" stroke="#000" stroke-width="1.25"/>
<line x1="416.41" y1="710.10" x2="416.41" y2="713.80" stroke="#000" stroke-width="1.25"/>
<line x1="427.60" y1="710.10" x2="427.60" y2="716.00" stroke="#000" stroke-width="1.67"/>
<line x1="501.23" y1="710.10" x2="501.23" y2="713.80" stroke="#000" stroke-width="1.25"/>
<line x1="544.30" y1="710.10" x2="544.30" y2="713.80" stroke="#000" stroke-width="1.25"/>
<line x1="574.86" y1="710.10" x2="574.86" y2="713.80" stroke="#000" stroke-width="1.25"/>
<line x1="598.57" y1="710.10" x2="598.57" y2="713.80" stroke="#000" stroke-width="1.25"/>
<line x1="617.94" y1="710.10" x2="617.94" y2="713.80" stroke="#000" stroke-width="1.25"/>
<line x1="634.31" y1="710.10" x2="634.31" y2="713.80" stroke="#000" stroke-width="1.25"/>
<line x1="648.50" y1="710.10" x2="648.50" y2="713.80" stroke="#000" stroke-width="1.25"/>
<line x1="661.01" y1="710.10" x2="661.01" y2="713.80" stroke="#000" stroke-width="1.25"/>
<line x1="672.20" y1="710.10" x2="672.20" y2="716.00" stroke="#000" stroke-width="1.67"/>
<line x1="745.83" y1="710.10" x2="745.83" y2="713.80" stroke="#000" stroke-width="1.25"/>
<line x1="788.90" y1="710.10" x2="788.90" y2="713.80" stroke="#000" stroke-width="1.25"/>
<line x1="819.46" y1="710.10" x2="819.46" y2="713.80" stroke="#000" stroke-width="1.25"/>
<line x1="843.17" y1="710.10" x2="843.17" y2="713.80" stroke="#000" stroke-width="1.25"/>
<line x1="862.54" y1="710.10" x2="862.54" y2="713.80" stroke="#000" stroke-width="1.25"/>
<line x1="878.91" y1="710.10" x2="878.91" y2="713.80" stroke="#000" stroke-width="1.25"/>
<line x1="893.10" y1="710.10" x2="893.10" y2="713.80" stroke="#000" stroke-width="1.25"/>
<line x1="905.61" y1="710.10" x2="905.61" y2="713.80" stroke="#000" stroke-width="1.25"/>
<line x1="916.80" y1="710.10" x2="916.80" y2="716.00" stroke="#000" stroke-width="1.67"/>
<line x1="990.43" y1="710.10" x2="990.43" y2="713.80" stroke="#000" stroke-width="1.25"/>
<line x1="1033.50" y1="710.10" x2="1033.50" y2="713.80" stroke="#000" stroke-width="1.25"/>
<line x1="1064.06" y1="710.10" x2="1064.06" y2="713.80" stroke="#000" stroke-width="1.25"/>
<line x1="1087.77" y1="710.10" x2="1087.77" y2="713.80" stroke="#000" stroke-width="1.25"/>
<line x1="1107.14" y1="710.10" x2="1107.14" y2="713.80" stroke="#000" stroke-width="1.25"/>
<line x1="183.00" y1="1496.10" x2="183.00" y2="1502.00" stroke="#000" stroke-width="1.67"/>
<line x1="256.63" y1="1496.10" x2="256.63" y2="1499.80" stroke="#000" stroke-width="1.25"/>
<line x1="299.70" y1="1496.10" x2="299.70" y2="1499.80" stroke="#000" stroke-width="1.25"/>
<line x1="330.26" y1="1496.10" x2="330.26" y2="1499.80" stroke="#000" stroke-width="1.25"/>
<line x1="353.97" y1="1496.10" x2="353.97" y2="1499.80" stroke="#000" stroke-width="1.25"/>
<line x1="373.34" y1="1496.10" x2="373.34" y2="1499.80" stroke="#000" stroke-width="1.25"/>
<line x1="389.71" y1="1496.10" x2="389.71" y2="1499.80" stroke="#000" stroke-width="1.25"/>
<line x1="403.90" y1="1496.10" x2="403.90" y2="1499.80" stroke="#000" stroke-width="1.25"/>
<line x1="416.41" y1="1496.10" x2="416.41" y2="1499.80" stroke="#000" stroke-width="1.25"/>
<line x1="427.60" y1="1496.10" x2="427.60" y2="1502.00" stroke="#000" stroke-width="1.67"/>
<line x1="501.23" y1="1496.10" x2="501.23" y2="1499.80" stroke="#000" stroke-width="1.25"/>
<line x1="544.30" y1="1496.10" x2="544.30" y2="1499.80" stroke="#000" stroke-width="1.25"/>
<line x1="574.86" y1="1496.10" x2="574.86" y2="1499.80" stroke="#000" stroke-width="1.25"/>
<line x1="598.57" y1="1496.10" x2="598.57" y2="1499.80" stroke="#000" stroke-width="1.25"/>
<line x1="617.94" y1="1496.10" x2="617.94" y2="1499.80" stroke="#000" stroke-width="1.25"/>
<line x1="634.31" y1="1496.10" x2="634.31" y2="1499.80" stroke="#000" stroke-width="1.25"/>
<line x1="648.50" y1="1496.10" x2="648.50" y2="1499.80" stroke="#000" stroke-width="1.25"/>
<line x1="661.01" y1="1496.10" x2="661.01" y2="1499.80" stroke="#000" stroke-width="1.25"/>
<line x1="672.20" y1="1496.10" x2="672.20" y2="1502.00" stroke="#000" stroke-width="1.67"/>
<line x1="745.83" y1="1496.10" x2="745.83" y2="1499.80" stroke="#000" stroke-width="1.25"/>
<line x1="788.90" y1="1496.10" x2="788.90" y2="1499.80" stroke="#000" stroke-width="1.25"/>
<line x1="819.46" y1="1496.10" x2="819.46" y2="1499.80" stroke="#000" stroke-width="1.25"/>
<line x1="843.17" y1="1496.10" x2="843.17" y2="1499.80" stroke="#000" stroke-width="1.25"/>
<line x1="862.54" y1="1496.10" x2="862.54" y2="1499.80" stroke="#000" stroke-width="1.25"/>
<line x1="878.91" y1="1496.10" x2="878.91" y2="1499.80" stroke="#000" stroke-width="1.25"/>
<line x1="893.10" y1="1496.10" x2="893.10" y2="1499.80" stroke="#000" stroke-width="1.25"/>
<line x1="905.61" y1="1496.10" x2="905.61" y2="1499.80" stroke="#000" stroke-width="1.25"/>
<line x1="916.80" y1="1496.10" x2="916.80" y2="1502.00" stroke="#000" stroke-width="1.67"/>
<line x1="990.43" y1="1496.10" x2="990.43" y2="1499.80" stroke="#000" stroke-width="1.25"/>
<line x1="1033.50" y1="1496.10" x2="1033.50" y2="1499.80" stroke="#000" stroke-width="1.25"/>
<line x1="1064.06" y1="1496.10" x2="1064.06" y2="1499.80" stroke="#000" stroke-width="1.25"/>
<line x1="1087.77" y1="1496.10" x2="1087.77" y2="1499.80" stroke="#000" stroke-width="1.25"/>
<line x1="1107.14" y1="1496.10" x2="1107.14" y2="1499.80" stroke="#000" stroke-width="1.25"/>
<line x1="179.30" y1="680.28" x2="183.00" y2="680.28" stroke="#000" stroke-width="1.25"/>
<line x1="179.30" y1="654.99" x2="183.00" y2="654.99" stroke="#000" stroke-width="1.25"/>
<line x1="179.30" y1="637.05" x2="183.00" y2="637.05" stroke="#000" stroke-width="1.25"/>
<line x1="179.30" y1="623.13" x2="183.00" y2="623.13" stroke="#000" stroke-width="1.25"/>
<line x1="179.30" y1="611.75" x2="183.00" y2="611.75" stroke="#000" stroke-width="1.25"/>
<line x1="179.30" y1="602.14" x2="183.00" y2="602.14" stroke="#000" stroke-width="1.25"/>
<line x1="179.30" y1="593.81" x2="183.00" y2="593.81" stroke="#000" stroke-width="1.25"/>
<line x1="179.30" y1="586.46" x2="183.00" y2="586.46" stroke="#000" stroke-width="1.25"/>
<line x1="177.10" y1="579.89" x2="183.00" y2="579.89" stroke="#000" stroke-width="1.67"/>
<line x1="179.30" y1="536.65" x2="183.00" y2="536.65" stroke="#000" stroke-width="1.25"/>
<line x1="179.30" y1="511.36" x2="183.00" y2="511.36" stroke="#000" stroke-width="1.25"/>
<line x1="179.30" y1="493.42" x2="183.00" y2="493.42" stroke="#000" stroke-width="1.25"/>
<line x1="179.30" y1="479.50" x2="183.00" y2="479.50" stroke="#000" stroke-width="1.25"/>
<line x1="179.30" y1="468.12" x2="183.00" y2="468.12" stroke="#000" stroke-width="1.25"/>
<line x1="179.30" y1="458.51" x2="183.00" y2="458.51" stroke="#000" stroke-width="1.25"/>
<line x1="179.30" y1="450.18" x2="183.00" y2="450.18" stroke="#000" stroke-width="1.25"/>
<line x1="179.30" y1="442.83" x2="183.00" y2="442.83" stroke="#000" stroke-width="1.25"/>
<line x1="177.10" y1="436.26" x2="183.00" y2="436.26" stroke="#000" stroke-width="1.67"/>
<line x1="179.30" y1="393.02" x2="183.00" y2="393.02" stroke="#000" stroke-width="1.25"/>
<line x1="179.30" y1="367.73" x2="183.00" y2="367.73" stroke="#000" stroke-width="1.25"/>
<line x1="179.30" y1="349.79" x2="183.00" y2="349.79" stroke="#000" stroke-width="1.25"/>
<line x1="179.30" y1="335.87" x2="183.00" y2="335.87" stroke="#000" stroke-width="1.25"/>
<line x1="179.30" y1="324.49" x2="183.00" y2="324.49" stroke="#000" stroke-width="1.25"/>
<line x1="179.30" y1="314.88" x2="183.00" y2="314.88" stroke="#000" stroke-width="1.25"/>
<line x1="179.30" y1="306.55" x2="183.00" y2="306.55" stroke="#000" stroke-width="1.25"/>
<line x1="179.30" y1="299.20" x2="183.00" y2="299.20" stroke="#000" stroke-width="1.25"/>
<line x1="177.10" y1="292.63" x2="183.00" y2="292.63" stroke="#000" stroke-width="1.67"/>
<line x1="179.30" y1="249.39" x2="183.00" y2="249.39" stroke="#000" stroke-width="1.25"/>
<line x1="179.30" y1="224.10" x2="183.00" y2="224.10" stroke="#000" stroke-width="1.25"/>
<line x1="179.30" y1="206.16" x2="183.00" y2="206.16" stroke="#000" stroke-width="1.25"/>
<line x1="179.30" y1="192.24" x2="183.00" y2="192.24" stroke="#000" stroke-width="1.25"/>
<line x1="179.30" y1="180.86" x2="183.00" y2="180.86" stroke="#000" stroke-width="1.25"/>
<line x1="179.30" y1="171.25" x2="183.00" y2="171.25" stroke="#000" stroke-width="1.25"/>
<line x1="179.30" y1="162.92" x2="183.00" y2="162.92" stroke="#000" stroke-width="1.25"/>
<line x1="179.30" y1="155.57" x2="183.00" y2="155.57" stroke="#000" stroke-width="1.25"/>
<line x1="177.10" y1="149.00" x2="183.00" y2="149.00" stroke="#000" stroke-width="1.67"/>
<line x1="179.30" y1="105.76" x2="183.00" y2="105.76" stroke="#000" stroke-width="1.25"/>
<line x1="179.30" y1="80.47" x2="183.00" y2="80.47" stroke="#000" stroke-width="1.25"/>
<line x1="179.30" y1="62.53" x2="183.00" y2="62.53" stroke="#000" stroke-width="1.25"/>
<line x1="179.30" y1="1490.46" x2="183.00" y2="1490.46" stroke="#000" stroke-width="1.25"/>
<line x1="179.30" y1="1481.51" x2="183.00" y2="1481.51" stroke="#000" stroke-width="1.25"/>
<line x1="179.30" y1="1473.76" x2="183.00" y2="1473.76" stroke="#000" stroke-width="1.25"/>
<line x1="179.30" y1="1466.92" x2="183.00" y2="1466.92" stroke="#000" stroke-width="1.25"/>
<line x1="177.10" y1="1460.80" x2="183.00" y2="1460.80" stroke="#000" stroke-width="1.67"/>
<line x1="179.30" y1="1420.55" x2="183.00" y2="1420.55" stroke="#000" stroke-width="1.25"/>
<line x1="179.30" y1="1397.01" x2="183.00" y2="1397.01" stroke="#000" stroke-width="1.25"/>
<line x1="179.30" y1="1380.30" x2="183.00" y2="1380.30" stroke="#000" stroke-width="1.25"/>
<line x1="179.30" y1="1367.35" x2="183.00" y2="1367.35" stroke="#000" stroke-width="1.25"/>
<line x1="179.30" y1="1356.76" x2="183.00" y2="1356.76" stroke="#000" stroke-width="1.25"/>
<line x1="179.30" y1="1347.81" x2="183.00" y2="1347.81" stroke="#000" stroke-width="1.25"/>
<line x1="179.30" y1="1340.06" x2="183.00" y2="1340.06" stroke="#000" stroke-width="1.25"/>
<line x1="179.30" y1="1333.22" x2="183.00" y2="1333.22" stroke="#000" stroke-width="1.25"/>
<line x1="177.10" y1="1327.10" x2="183.00" y2="1327.10" stroke="#000" stroke-width="1.67"/>
<line x1="179.30" y1="1286.85" x2="183.00" y2="1286.85" stroke="#000" stroke-width="1.25"/>
<line x1="179.30" y1="1263.31" x2="183.00" y2="1263.31" stroke="#000" stroke-width="1.25"/>
<line x1="179.30" y1="1246.60" x2="183.00" y2="1246.60" stroke="#000" stroke-width="1.25"/>
<line x1="179.30" y1="1233.65" x2="183.00" y2="1233.65" stroke="#000" stroke-width="1.25"/>
<line x1="179.30" y1="1223.06" x2="183.00" y2="1223.06" stroke="#000" stroke-width="1.25"/>
<line x1="179.30" y1="1214.11" x2="183.00" y2="1214.11" stroke="#000" stroke-width="1.25"/>
<line x1="179.30" y1="1206.36" x2="183.00" y2="1206.36" stroke="#000" stroke-width="1.25"/>
<line x1="179.30" y1="1199.52" x2="183.00" y2="1199.52" stroke="#000" stroke-width="1.25"/>
<line x1="177.10" y1="1193.40" x2="183.00" y2="1193.40" stroke="#000" stroke-width="1.67"/>
<line x1="179.30" y1="1153.15" x2="183.00" y2="1153.15" stroke="#000" stroke-width="1.25"/>
<line x1="179.30" y1="1129.61" x2="183.00" y2="1129.61" stroke="#000" stroke-width="1.25"/>
<line x1="179.30" y1="1112.90" x2="183.00" y2="1112.90" stroke="#000" stroke-width="1.25"/>
<line x1="179.30" y1="1099.95" x2="183.00" y2="1099.95" stroke="#000" stroke-width="1.25"/>
<line x1="179.30" y1="1089.36" x2="183.00" y2="1089.36" stroke="#000" stroke-width="1.25"/>
<line x1="179.30" y1="1080.41" x2="183.00" y2="1080.41" stroke="#000" stroke-width="1.25"/>
<line x1="179.30" y1="1072.66" x2="183.00" y2="1072.66" stroke="#000" stroke-width="1.25"/>
<line x1="179.30" y1="1065.82" x2="183.00" y2="1065.82" stroke="#000" stroke-width="1.25"/>
<line x1="177.10" y1="1059.70" x2="183.00" y2="1059.70" stroke="#000" stroke-width="1.67"/>
<line x1="179.30" y1="1019.45" x2="183.00" y2="1019.45" stroke="#000" stroke-width="1.25"/>
<line x1="179.30" y1="995.91" x2="183.00" y2="995.91" stroke="#000" stroke-width="1.25"/>
<line x1="179.30" y1="979.20" x2="183.00" y2="979.20" stroke="#000" stroke-width="1.25"/>
<line x1="179.30" y1="966.25" x2="183.00" y2="966.25" stroke="#000" stroke-width="1.25"/>
<line x1="179.30" y1="955.66" x2="183.00" y2="955.66" stroke="#000" stroke-width="1.25"/>
<line x1="179.30" y1="946.71" x2="183.00" y2="946.71" stroke="#000" stroke-width="1.25"/>
<line x1="179.30" y1="938.96" x2="183.00" y2="938.96" stroke="#000" stroke-width="1.25"/>
<line x1="179.30" y1="932.12" x2="183.00" y2="932.12" stroke="#000" stroke-width="1.25"/>
<line x1="177.10" y1="926.00" x2="183.00" y2="926.00" stroke="#000" stroke-width="1.67"/>
<line x1="179.30" y1="885.75" x2="183.00" y2="885.75" stroke="#000" stroke-width="1.25"/>
<line x1="179.30" y1="862.21" x2="183.00" y2="862.21" stroke="#000" stroke-width="1.25"/>
<line x1="179.30" y1="845.50" x2="183.00" y2="845.50" stroke="#000" stroke-width="1.25"/>
<text x="151.10" y="748.82" font-size="38.42" textLength="45.29" lengthAdjust="spacingAndGlyphs" style="font-family:&quot;Liberation Sans&quot;,sans-serif;stroke:#000;stroke-width:0.45px;" fill="#000">10</text>
<text x="197.94" y="735.04" font-size="27.12" textLength="15.12" lengthAdjust="spacingAndGlyphs" style="font-family:&quot;Liberation Sans&quot;,sans-serif;stroke:#000;stroke-width:0.45px;" fill="#000">0</text>
<text x="395.70" y="748.82" font-size="38.42" textLength="45.29" lengthAdjust="spacingAndGlyphs" style="font-family:&quot;Liberation Sans&quot;,sans-serif;stroke:#000;stroke-width:0.45px;" fill="#000">10</text>
<text x="442.25" y="735.30" font-size="27.91" textLength="14.96" lengthAdjust="spacingAndGlyphs" style="font-family:&quot;Liberation Sans&quot;,sans-serif;stroke:#000;stroke-width:0.45px;" fill="#000">1</text>
<text x="640.30" y="748.82" font-size="38.42" textLength="45.29" lengthAdjust="spacingAndGlyphs" style="font-family:&quot;Liberation Sans&quot;,sans-serif;stroke:#000;stroke-width:0.45px;" fill="#000">10</text>
<text x="686.76" y="735.30" font-size="27.50" textLength="15.87" lengthAdjust="spacingAndGlyphs" style="font-family:&quot;Liberation Sans&quot;,sans-serif;stroke:#000;stroke-width:0.45px;" fill="#000">2</text>
<text x="884.90" y="748.82" font-size="38.42" textLength="45.29" lengthAdjust="spacingAndGlyphs" style="font-family:&quot;Liberation Sans&quot;,sans-serif;stroke:#000;stroke-width:0.45px;" fill="#000">10</text>
<text x="931.76" y="735.04" font-size="27.12" textLength="15.25" lengthAdjust="spacingAndGlyphs" style="font-family:&quot;Liberation Sans&quot;,sans-serif;stroke:#000;stroke-width:0.45px;" fill="#000">3</text>
<text x="151.10" y="1534.82" font-size="38.42" textLength="45.29" lengthAdjust="spacingAndGlyphs" style="font-family:&quot;Liberation Sans&quot;,sans-serif;stroke:#000;stroke-width:0.45px;" fill="#000">10</text>
<text x="197.94" y="1521.04" font-size="27.12" textLength="15.12" lengthAdjust="spacingAndGlyphs" style="font-family:&quot;Liberation Sans&quot;,sans-serif;stroke:#000;stroke-width:0.45px;" fill="#000">0</text>
<text x="395.70" y="1534.82" font-size="38.42" textLength="45.29" lengthAdjust="spacingAndGlyphs" style="font-family:&quot;Liberation Sans&quot;,sans-serif;stroke:#000;stroke-width:0.45px;" fill="#000">10</text>
<text x="442.25" y="1521.30" font-size="27.91" textLength="14.96" lengthAdjust="spacingAndGlyphs" style="font-family:&quot;Liberation Sans&quot;,sans-serif;stroke:#000;stroke-width:0.45px;" fill="#000">1</text>
<text x="640.30" y="1534.82" font-size="38.42" textLength="45.29" lengthAdjust="spacingAndGlyphs" style="font-family:&quot;Liberation Sans&quot;,sans-serif;stroke:#000;stroke-width:0.45px;" fill="#000">10</text>
<text x="686.76" y="1521.30" font-size="27.50" textLength="15.87" lengthAdjust="spacingAndGlyphs" style="font-family:&quot;Liberation Sans&quot;,sans-serif;stroke:#000;stroke-width:0.45px;" fill="#000">2</text>
<text x="884.90" y="1534.82" font-size="38.42" textLength="45.29" lengthAdjust="spacingAndGlyphs" style="font-family:&quot;Liberation Sans&quot;,sans-serif;stroke:#000;stroke-width:0.45px;" fill="#000">10</text>
<text x="931.76" y="1521.04" font-size="27.12" textLength="15.25" lengthAdjust="spacingAndGlyphs" style="font-family:&quot;Liberation Sans&quot;,sans-serif;stroke:#000;stroke-width:0.45px;" fill="#000">3</text>
<text x="107.31" y="162.83" font-size="38.14" textLength="45.18" lengthAdjust="spacingAndGlyphs" style="font-family:&quot;Liberation Sans&quot;,sans-serif;stroke:#000;stroke-width:0.45px;" fill="#000">10</text>
<text x="153.59" y="148.54" font-size="26.55" textLength="15.82" lengthAdjust="spacingAndGlyphs" style="font-family:&quot;Liberation Sans&quot;,sans-serif;stroke:#000;stroke-width:0.45px;" fill="#000">0</text>
<text x="86.01" y="306.46" font-size="38.14" textLength="45.18" lengthAdjust="spacingAndGlyphs" style="font-family:&quot;Liberation Sans&quot;,sans-serif;stroke:#000;stroke-width:0.45px;" fill="#000">10</text>
<text x="132.73" y="295.44" font-size="35.07" textLength="19.83" lengthAdjust="spacingAndGlyphs" style="font-family:&quot;Liberation Sans&quot;,sans-serif;stroke:#000;stroke-width:0.45px;" fill="#000">−</text>
<text x="153.65" y="292.43" font-size="27.33" textLength="14.96" lengthAdjust="spacingAndGlyphs" style="font-family:&quot;Liberation Sans&quot;,sans-serif;stroke:#000;stroke-width:0.45px;" fill="#000">1</text>
<text x="86.01" y="450.09" font-size="38.14" textLength="45.18" lengthAdjust="spacingAndGlyphs" style="font-family:&quot;Liberation Sans&quot;,sans-serif;stroke:#000;stroke-width:0.45px;" fill="#000">10</text>
<text x="132.73" y="439.07" font-size="35.07" textLength="19.83" lengthAdjust="spacingAndGlyphs" style="font-family:&quot;Liberation Sans&quot;,sans-serif;stroke:#000;stroke-width:0.45px;" fill="#000">−</text>
<text x="153.63" y="436.06" font-size="26.92" textLength="15.14" lengthAdjust="spacingAndGlyphs" style="font-family:&quot;Liberation Sans&quot;,sans-serif;stroke:#000;stroke-width:0.45px;" fill="#000">2</text>
<text x="86.01" y="593.72" font-size="38.14" textLength="45.18" lengthAdjust="spacingAndGlyphs" style="font-family:&quot;Liberation Sans&quot;,sans-serif;stroke:#000;stroke-width:0.45px;" fill="#000">10</text>
<text x="132.73" y="582.70" font-size="35.07" textLength="19.83" lengthAdjust="spacingAndGlyphs" style="font-family:&quot;Liberation Sans&quot;,sans-serif;stroke:#000;stroke-width:0.45px;" fill="#000">−</text>
<text x="153.11" y="579.43" font-size="26.55" textLength="15.95" lengthAdjust="spacingAndGlyphs" style="font-family:&quot;Liberation Sans&quot;,sans-serif;stroke:#000;stroke-width:0.45px;" fill="#000">3</text>
<text x="107.31" y="939.83" font-size="38.14" textLength="45.18" lengthAdjust="spacingAndGlyphs" style="font-family:&quot;Liberation Sans&quot;,sans-serif;stroke:#000;stroke-width:0.45px;" fill="#000">10</text>
<text x="153.59" y="925.54" font-size="26.55" textLength="15.82" lengthAdjust="spacingAndGlyphs" style="font-family:&quot;Liberation Sans&quot;,sans-serif;stroke:#000;stroke-width:0.45px;" fill="#000">0</text>
<text x="86.01" y="1073.53" font-size="38.14" textLength="45.18" lengthAdjust="spacingAndGlyphs" style="font-family:&quot;Liberation Sans&quot;,sans-serif;stroke:#000;stroke-width:0.45px;" fill="#000">10</text>
<text x="132.73" y="1062.51" font-size="35.07" textLength="19.83" lengthAdjust="spacingAndGlyphs" style="font-family:&quot;Liberation Sans&quot;,sans-serif;stroke:#000;stroke-width:0.45px;" fill="#000">−</text>
<text x="153.65" y="1059.50" font-size="27.33" textLength="14.96" lengthAdjust="spacingAndGlyphs" style="font-family:&quot;Liberation Sans&quot;,sans-serif;stroke:#000;stroke-width:0.45px;" fill="#000">1</text>
<text x="86.01" y="1207.23" font-size="38.14" textLength="45.18" lengthAdjust="spacingAndGlyphs" style="font-family:&quot;Liberation Sans&quot;,sans-serif;stroke:#000;stroke-width:0.45px;" fill="#000">10</text>
<text x="132.73" y="1196.21" font-size="35.07" textLength="19.83" lengthAdjust="spacingAndGlyphs" style="font-family:&quot;Liberation Sans&quot;,sans-serif;stroke:#000;stroke-width:0.45px;" fill="#000">−</text>
<text x="153.63" y="1193.20" font-size="26.92" textLength="15.14" lengthAdjust="spacingAndGlyphs" style="font-family:&quot;Liberation Sans&quot;,sans-serif;stroke:#000;stroke-width:0.45px;" fill="#000">2</text>
<text x="86.01" y="1340.93" font-size="38.14" textLength="45.18" lengthAdjust="spacingAndGlyphs" style="font-family:&quot;Liberation Sans&quot;,sans-serif;stroke:#000;stroke-width:0.45px;" fill="#000">10</text>
<text x="132.73" y="1329.91" font-size="35.07" textLength="19.83" lengthAdjust="spacingAndGlyphs" style="font-family:&quot;Liberation Sans&quot;,sans-serif;stroke:#000;stroke-width:0.45px;" fill="#000">−</text>
<text x="153.11" y="1326.64" font-size="26.55" textLength="15.95" lengthAdjust="spacingAndGlyphs" style="font-family:&quot;Liberation Sans&quot;,sans-serif;stroke:#000;stroke-width:0.45px;" fill="#000">3</text>
<text x="86.01" y="1474.63" font-size="38.14" textLength="45.18" lengthAdjust="spacingAndGlyphs" style="font-family:&quot;Liberation Sans&quot;,sans-serif;stroke:#000;stroke-width:0.45px;" fill="#000">10</text>
<text x="132.73" y="1463.61" font-size="35.07" textLength="19.83" lengthAdjust="spacingAndGlyphs" style="font-family:&quot;Liberation Sans&quot;,sans-serif;stroke:#000;stroke-width:0.45px;" fill="#000">−</text>
<text x="153.26" y="1460.60" font-size="27.33" textLength="15.56" lengthAdjust="spacingAndGlyphs" style="font-family:&quot;Liberation Sans&quot;,sans-serif;stroke:#000;stroke-width:0.45px;" fill="#000">4</text>
<g transform="rotate(-90)">
<text x="-417.29" y="70.10" font-size="39.24" textLength="26.59" lengthAdjust="spacingAndGlyphs" style="font-family:&quot;Liberation Sans&quot;,sans-serif;stroke:#000;stroke-width:0.45px;" fill="#000">Δ</text>
<text x="-391.07" y="55.90" font-size="26.92" textLength="15.14" lengthAdjust="spacingAndGlyphs" style="font-family:&quot;Liberation Sans&quot;,sans-serif;stroke:#000;stroke-width:0.45px;" fill="#000">2</text>
<text x="-374.10" y="69.99" font-size="38.62" textLength="24.21" lengthAdjust="spacingAndGlyphs" style="font-family:&quot;Liberation Sans&quot;,sans-serif;font-style:italic;stroke:#000;stroke-width:0.45px;" fill="#000">ϕ</text>
</g>
<g transform="rotate(-90)">
<text x="-1203.29" y="70.10" font-size="39.24" textLength="26.59" lengthAdjust="spacingAndGlyphs" style="font-family:&quot;Liberation Sans&quot;,sans-serif;stroke:#000;stroke-width:0.45px;" fill="#000">Δ</text>
<text x="-1177.07" y="55.90" font-size="26.92" textLength="15.14" lengthAdjust="spacingAndGlyphs" style="font-family:&quot;Liberation Sans&quot;,sans-serif;stroke:#000;stroke-width:0.45px;" fill="#000">2</text>
<text x="-1160.10" y="69.99" font-size="38.62" textLength="24.21" lengthAdjust="spacingAndGlyphs" style="font-family:&quot;Liberation Sans&quot;,sans-serif;font-style:italic;stroke:#000;stroke-width:0.45px;" fill="#000">ϕ</text>
</g>
<text x="631.92" y="791.60" font-size="39.24" textLength="26.24" lengthAdjust="spacingAndGlyphs" style="font-family:&quot;Liberation Sans&quot;,sans-serif;stroke:#000;stroke-width:0.45px;" fill="#000">N</text>
<text x="631.92" y="1577.50" font-size="38.95" textLength="26.24" lengthAdjust="spacingAndGlyphs" style="font-family:&quot;Liberation Sans&quot;,sans-serif;stroke:#000;stroke-width:0.45px;" fill="#000">N</text>
<rect x="802.50" y="63.00" width="298.20" height="238.30" fill="#fff"/>
<g clip-path="url(#cia)">
<path d="M815.0,135.0 L815.8,109.0 L816.6,150.0 L817.4,95.0 L818.5,77.0 L819.4,140.0 L820.2,110.0 L821.0,165.0 L822.0,120.0 L823.0,150.0 L824.0,100.0 L825.4,90.0 L826.3,170.0 L827.2,120.0 L828.0,190.0 L829.0,135.0 L830.0,180.0 L831.0,150.0 L832.0,200.0 L833.0,120.0 L834.4,77.0 L835.4,150.0 L836.4,118.0 L837.4,190.0 L838.4,140.0 L839.8,107.6 L840.7,200.0 L841.4,170.0 L842.0,136.4 L842.8,225.0 L843.6,190.0 L844.3,216.5 L845.5,180.0 L846.4,200.0 L847.3,142.7 L848.1,175.0 L848.3,215.0 L849.1,232.0 L851.0,232.7 L853.0,235.0 L854.4,246.2 L856.6,255.3 L858.5,257.8 L862.6,259.8 L865.4,261.2 L869.4,259.5 L870.4,259.0 L871.2,240.4 L872.1,262.4 L878.0,263.8 L886.2,264.7 L897.0,266.0 L909.3,267.0 L920.0,268.0 L932.4,268.9 L955.6,270.5 L978.7,272.1 L1001.8,273.5 L1024.9,274.4 L1048.0,275.3 L1071.1,275.8 L1087.3,276.3" fill="none" stroke="#ff4500" stroke-width="2.40" stroke-linejoin="round" stroke-linecap="butt"/>
<path d="M815.5,201.0 L815.5,145.5 L816.2,130.0 L816.3,189.1 L817.0,190.0 L817.1,151.0 L817.4,106.0 L817.9,184.0 L818.3,180.0 L818.7,137.4 L819.0,120.0 L819.5,175.1 L819.8,178.6 L820.3,129.5 L820.3,110.0 L821.0,86.6 L821.1,174.8 L821.8,170.0 L821.9,137.2 L822.6,115.0 L822.7,170.3 L823.5,131.2 L823.5,185.0 L824.3,179.2 L824.3,180.0 L825.0,130.0 L825.1,132.3 L825.9,174.0 L826.0,100.7 L826.7,140.6 L827.0,170.0 L827.5,193.1 L827.6,130.0 L828.3,148.6 L828.8,204.9 L829.1,179.7 L829.5,140.0 L829.9,140.9 L830.0,180.0 L830.7,191.8 L830.7,76.0 L831.5,133.7 L831.8,189.1 L832.3,204.1 L832.4,130.0 L833.0,200.0 L833.1,144.1 L833.8,150.0 L833.9,213.7 L834.7,153.7 L834.7,109.8 L835.4,200.0 L835.5,227.5 L836.3,237.2 L837.0,180.0 L837.8,225.0 L838.5,154.3 L839.3,230.0 L840.1,238.6 L841.0,205.0 L842.0,240.0 L843.1,245.5 L844.2,225.0 L845.5,238.0 L846.8,198.1 L848.0,240.0 L849.1,250.0 L850.5,247.5 L852.0,245.0 L853.6,247.8 L855.2,249.4 L856.8,251.3 L858.4,251.3 L860.0,252.0 L861.6,251.9 L863.2,252.6 L864.8,252.0 L866.4,251.1 L868.0,252.6 L869.6,252.2 L871.2,252.0 L872.8,252.0 L874.4,251.4 L876.0,251.6 L877.6,252.3 L879.2,251.9 L880.8,253.8 L882.4,252.1 L884.0,251.5 L885.6,249.7 L887.2,252.1 L888.8,252.7 L890.4,251.4 L892.0,252.6 L893.6,255.0 L895.2,254.5 L896.8,256.4 L898.4,255.3 L900.0,254.7 L901.6,256.3 L903.2,257.2 L904.8,256.4 L906.4,256.5 L908.0,258.1 L909.6,260.9 L911.2,261.4 L912.8,260.7 L914.4,261.8 L916.0,261.7 L917.6,261.9 L919.2,264.1 L920.8,262.7 L922.4,264.4 L924.0,264.9 L925.6,265.0 L927.2,267.3 L928.8,265.3 L930.4,265.5 L932.0,262.9 L933.6,263.2 L935.2,262.4 L936.8,262.2 L938.4,263.8 L940.0,263.4 L941.6,262.7 L943.2,264.7 L944.8,263.4 L946.4,264.1 L948.0,265.5 L949.6,265.0 L951.2,263.5 L952.8,265.8 L954.4,264.2 L956.0,264.7 L957.6,266.5 L959.2,265.9 L960.8,266.3 L962.4,266.3 L964.0,266.9 L965.6,268.7 L967.2,268.5 L968.8,270.0 L970.4,270.1 L972.0,269.8 L973.6,270.4 L975.2,268.8 L976.8,268.7 L978.4,269.2 L980.0,267.5 L981.6,267.5 L983.2,269.5 L984.8,268.8 L986.4,266.8 L988.0,266.1 L989.6,266.8 L991.2,266.5 L992.8,264.0 L994.4,266.2 L996.0,266.3 L997.6,265.7 L999.2,264.9 L1000.8,263.8 L1002.4,264.0 L1004.0,267.6 L1005.6,266.9 L1007.2,268.1 L1008.8,265.8 L1010.4,266.2 L1012.0,265.1 L1013.6,263.7 L1015.2,262.9 L1016.8,264.1 L1018.4,262.4 L1020.0,262.8 L1021.6,263.3 L1023.2,263.7 L1024.8,262.7 L1026.4,261.9 L1028.0,263.7 L1029.6,262.0 L1031.2,261.6 L1032.8,263.0 L1034.4,264.5 L1036.0,264.5 L1037.6,264.4 L1039.2,264.0 L1040.8,263.6 L1042.4,261.5 L1044.0,261.6 L1045.6,263.0 L1047.2,263.2 L1048.8,262.1 L1050.4,261.7 L1052.0,260.9 L1053.6,259.5 L1055.2,259.0 L1056.8,258.8 L1058.4,260.4 L1060.0,259.2 L1061.6,259.1 L1063.2,256.3 L1064.8,257.6 L1066.4,257.0 L1068.0,257.3 L1069.6,256.4 L1071.2,258.7 L1072.8,256.8 L1074.4,258.6 L1076.0,259.6 L1077.6,260.5 L1079.2,259.7 L1080.8,259.0 L1082.4,258.5 L1084.0,258.0 L1085.6,255.6 L1087.2,255.5" fill="none" stroke="#800080" stroke-width="2.40" stroke-linejoin="round" stroke-linecap="butt"/>
<path d="M816.0,278.7 L1087.5,278.7" fill="none" stroke="#000" stroke-width="2.50" stroke-linejoin="round" stroke-linecap="butt" stroke-dasharray="15.9 3.97 2.48 3.97"/>
</g>
<rect x="802.50" y="63.00" width="298.20" height="238.30" fill="none" stroke="#000" stroke-width="1.67" stroke-linejoin="miter"/>
<line x1="811.19" y1="301.30" x2="811.19" y2="305.00" stroke="#000" stroke-width="1.25"/>
<line x1="847.40" y1="301.30" x2="847.40" y2="305.00" stroke="#000" stroke-width="1.25"/>
<line x1="873.08" y1="301.30" x2="873.08" y2="305.00" stroke="#000" stroke-width="1.25"/>
<line x1="893.01" y1="301.30" x2="893.01" y2="305.00" stroke="#000" stroke-width="1.25"/>
<line x1="909.29" y1="301.30" x2="909.29" y2="305.00" stroke="#000" stroke-width="1.25"/>
<line x1="923.05" y1="301.30" x2="923.05" y2="305.00" stroke="#000" stroke-width="1.25"/>
<line x1="934.98" y1="301.30" x2="934.98" y2="305.00" stroke="#000" stroke-width="1.25"/>
<line x1="945.49" y1="301.30" x2="945.49" y2="305.00" stroke="#000" stroke-width="1.25"/>
<line x1="954.90" y1="301.30" x2="954.90" y2="307.20" stroke="#000" stroke-width="1.67"/>
<line x1="1016.79" y1="301.30" x2="1016.79" y2="305.00" stroke="#000" stroke-width="1.25"/>
<line x1="1053.00" y1="301.30" x2="1053.00" y2="305.00" stroke="#000" stroke-width="1.25"/>
<line x1="1078.68" y1="301.30" x2="1078.68" y2="305.00" stroke="#000" stroke-width="1.25"/>
<line x1="1098.61" y1="301.30" x2="1098.61" y2="305.00" stroke="#000" stroke-width="1.25"/>
<line x1="796.60" y1="278.70" x2="802.50" y2="278.70" stroke="#000" stroke-width="1.67"/>
<line x1="798.80" y1="128.19" x2="802.50" y2="128.19" stroke="#000" stroke-width="1.25"/>
<text x="727.01" y="292.52" font-size="38.70" textLength="45.18" lengthAdjust="spacingAndGlyphs" style="font-family:&quot;Liberation Sans&quot;,sans-serif;stroke:#000;stroke-width:0.45px;" fill="#000">10</text>
<text x="772.97" y="278.24" font-size="27.12" textLength="16.06" lengthAdjust="spacingAndGlyphs" style="font-family:&quot;Liberation Sans&quot;,sans-serif;stroke:#000;stroke-width:0.45px;" fill="#000">0</text>
<text x="661.01" y="142.39" font-size="39.53" textLength="21.97" lengthAdjust="spacingAndGlyphs" style="font-family:&quot;Liberation Sans&quot;,sans-serif;stroke:#000;stroke-width:0.45px;" fill="#000">2</text>
<text x="693.08" y="145.68" font-size="45.49" textLength="27.12" lengthAdjust="spacingAndGlyphs" style="font-family:&quot;Liberation Sans&quot;,sans-serif;stroke:#000;stroke-width:0.45px;" fill="#000">×</text>
<text x="729.94" y="142.00" font-size="38.98" textLength="44.62" lengthAdjust="spacingAndGlyphs" style="font-family:&quot;Liberation Sans&quot;,sans-serif;stroke:#000;stroke-width:0.45px;" fill="#000">10</text>
<text x="775.94" y="127.73" font-size="26.55" textLength="15.12" lengthAdjust="spacingAndGlyphs" style="font-family:&quot;Liberation Sans&quot;,sans-serif;stroke:#000;stroke-width:0.45px;" fill="#000">0</text>
<text x="922.35" y="340.73" font-size="37.85" textLength="45.96" lengthAdjust="spacingAndGlyphs" style="font-family:&quot;Liberation Sans&quot;,sans-serif;stroke:#000;stroke-width:0.45px;" fill="#000">10</text>
<text x="968.34" y="326.25" font-size="25.14" textLength="16.89" lengthAdjust="spacingAndGlyphs" style="font-family:&quot;Liberation Sans&quot;,sans-serif;stroke:#000;stroke-width:0.45px;" fill="#000">3</text>
<rect x="802.50" y="850.00" width="298.20" height="238.50" fill="#fff"/>
<g clip-path="url(#cib)">
<path d="M815.0,1045.3 L825.0,1047.3 L834.3,1048.7 L842.3,1048.7 L850.3,1052.0 L858.3,1052.0 L863.7,1050.7 L871.7,1052.7 L885.0,1054.7 L898.3,1056.0 L906.3,1056.0 L911.7,1054.7 L919.7,1056.0 L925.0,1057.3 L958.3,1057.5 L978.3,1060.0 L1018.3,1061.3 L1038.3,1062.7 L1065.0,1064.0 L1087.7,1064.4" fill="none" stroke="#ff7f50" stroke-width="2.40" stroke-linejoin="round" stroke-linecap="butt"/>
<path d="M815.0,1035.1 L815.0,1030.8 L815.5,1049.2 L815.9,1044.6 L816.7,1030.6 L817.6,1044.2 L818.3,1028.8 L818.4,1033.1 L818.8,1047.2 L819.3,1048.0 L820.1,1036.3 L821.0,1053.7 L821.8,1041.0 L822.3,1040.8 L822.7,1055.7 L822.8,1057.9 L823.5,1040.1 L824.4,1054.1 L825.2,1044.7 L826.1,1051.2 L826.9,1042.6 L827.0,1040.8 L827.5,1053.2 L827.8,1052.4 L828.6,1039.4 L829.5,1050.1 L830.3,1033.9 L831.2,1046.6 L832.0,1028.2 L832.9,1045.7 L833.7,1024.8 L833.7,1024.0 L834.2,1049.2 L834.6,1048.6 L835.4,1036.4 L836.3,1054.7 L836.3,1040.8 L836.8,1054.5 L837.1,1042.0 L838.0,1053.5 L838.8,1039.9 L839.7,1050.3 L840.5,1036.3 L841.0,1035.8 L841.4,1054.0 L841.5,1054.5 L842.2,1029.7 L843.1,1043.6 L843.7,1021.5 L843.9,1021.2 L844.2,1044.2 L844.8,1044.5 L845.6,1026.0 L846.5,1040.8 L847.3,1020.6 L847.7,1018.8 L848.2,1044.2 L848.2,1040.2 L849.0,1030.2 L849.7,1035.8 L849.9,1048.4 L850.2,1050.5 L850.7,1032.5 L851.6,1047.1 L852.4,1031.4 L853.3,1040.7 L854.1,1027.7 L854.3,1022.1 L854.8,1044.2 L855.0,1044.3 L855.8,1028.1 L856.7,1047.3 L857.5,1029.8 L857.7,1030.8 L858.2,1049.2 L858.4,1047.2 L859.2,1033.5 L860.1,1042.8 L860.9,1031.3 L861.0,1028.8 L861.5,1045.2 L861.8,1040.3 L862.6,1027.6 L863.5,1043.2 L864.3,1027.1 L865.0,1025.8 L865.2,1041.2 L865.5,1041.2 L866.0,1023.5 L866.9,1039.5 L867.7,1022.6 L868.6,1037.9 L869.0,1017.5 L869.4,1017.7 L869.5,1039.2 L870.3,1033.7 L871.1,1022.0 L872.0,1035.7 L872.8,1014.3 L873.0,1014.8 L873.5,1036.2 L873.7,1037.4 L874.5,1021.0 L875.4,1038.7 L876.2,1021.2 L877.0,1018.8 L877.1,1037.1 L877.5,1039.2 L877.9,1017.3 L878.8,1032.0 L879.6,1012.8 L880.5,1033.2 L881.3,1011.4 L882.2,1030.3 L882.3,1008.1 L882.8,1029.2 L883.0,1011.6 L883.9,1029.1 L884.7,1004.2 L885.0,1004.1 L885.5,1029.2 L885.6,1031.2 L886.4,1011.3 L887.3,1033.0 L888.1,1016.1 L889.0,1035.3 L889.0,1015.8 L889.5,1038.5 L889.8,1020.4 L890.7,1032.9 L891.0,1016.1 L891.5,1039.2 L891.5,1020.3 L892.4,1041.0 L893.2,1021.4 L893.7,1020.8 L894.1,1042.4 L894.2,1042.5 L894.9,1016.8 L895.8,1038.7 L896.6,1017.4 L897.0,1012.1 L897.5,1039.2 L897.5,1040.8 L898.3,1019.0 L899.2,1045.4 L899.7,1025.8 L900.0,1029.0 L900.2,1047.9 L900.9,1045.2 L901.7,1027.3 L902.6,1042.1 L903.4,1024.6 L904.3,1040.6 L905.0,1022.8 L905.1,1028.2 L905.5,1044.2 L906.0,1045.9 L906.8,1032.6 L907.7,1044.6 L907.7,1030.8 L908.2,1047.2 L908.5,1031.3 L909.4,1048.0 L910.2,1035.7 L911.1,1046.9 L911.7,1035.8 L911.9,1036.6 L912.2,1051.2 L912.8,1053.1 L913.6,1043.5 L914.3,1040.8 L914.5,1056.2 L914.8,1059.9 L915.3,1044.9 L916.2,1057.5 L917.0,1041.1 L917.9,1057.7 L918.3,1037.5 L918.7,1041.0 L918.8,1057.2 L919.6,1053.6 L920.4,1042.2 L921.0,1040.8 L921.3,1054.8 L921.5,1057.2 L922.1,1038.8 L923.0,1054.0 L923.8,1042.7 L924.7,1053.6 L925.0,1034.1 L925.5,1061.2 L925.5,1038.5 L926.4,1061.2 L927.2,1042.7 L928.1,1066.4 L928.3,1045.8 L928.8,1074.5 L928.9,1052.4 L929.8,1072.7 L930.6,1046.6 L931.5,1071.2 L932.3,1050.6 L933.2,1067.7 L934.0,1050.9 L934.3,1049.5 L934.8,1071.2 L934.9,1072.6 L935.7,1054.7 L936.6,1074.6 L937.0,1050.8 L937.4,1055.2 L937.5,1074.5 L938.3,1073.1 L939.1,1050.3 L940.0,1066.6 L940.8,1048.5 L941.0,1048.8 L941.5,1069.2 L941.7,1070.1 L942.5,1050.3 L943.4,1067.2 L944.2,1053.1 L945.0,1048.1 L945.1,1068.3 L945.5,1071.9 L945.9,1052.7 L946.8,1067.8 L947.6,1049.8 L948.5,1068.4 L949.3,1039.7 L950.2,1063.2 L951.0,1036.8 L951.7,1034.8 L951.9,1058.8 L952.2,1063.9 L952.7,1038.5 L953.6,1058.6 L954.4,1040.1 L955.3,1055.8 L956.1,1035.2 L957.0,1054.6 L957.8,1038.9 L958.3,1034.8 L958.7,1048.8 L958.8,1053.2 L959.5,1034.6 L960.4,1049.0 L961.2,1039.6 L962.1,1051.1 L962.9,1036.5 L963.8,1052.4 L964.6,1036.2 L965.0,1034.8 L965.5,1051.9 L965.5,1050.9 L966.3,1035.0 L967.2,1054.1 L968.0,1036.6 L968.9,1052.2 L969.7,1028.9 L970.6,1049.7 L971.0,1025.5 L971.4,1029.4 L971.5,1055.9 L972.3,1054.1 L973.1,1033.6 L974.0,1057.8 L974.8,1035.0 L975.7,1056.7 L976.5,1041.8 L977.0,1036.8 L977.4,1053.3 L977.5,1058.5 L978.2,1036.7 L979.1,1058.8 L979.9,1035.4 L980.8,1060.6 L981.0,1035.5 L981.5,1062.5 L981.6,1041.5 L982.5,1056.0 L983.3,1039.8 L984.2,1061.0 L985.0,1040.1 L985.0,1039.9 L985.5,1061.2 L985.9,1059.7 L986.7,1046.2 L987.6,1065.3 L988.4,1045.4 L989.3,1068.0 L989.7,1040.8 L990.1,1041.3 L990.2,1067.9 L991.0,1066.8 L991.8,1047.4 L992.7,1065.0 L993.5,1047.3 L994.3,1048.1 L994.4,1062.3 L994.8,1063.9 L995.2,1049.6 L996.1,1066.0 L996.9,1053.6 L997.8,1071.8 L998.3,1057.5 L998.6,1057.0 L998.8,1074.5 L999.5,1073.7 L1000.3,1056.4 L1001.2,1070.8 L1002.0,1053.5 L1002.9,1069.3 L1003.7,1050.8 L1003.7,1052.3 L1004.2,1069.2 L1004.6,1069.6 L1005.4,1051.4 L1006.3,1067.2 L1007.1,1054.5 L1008.0,1067.9 L1008.8,1056.7 L1009.0,1053.5 L1009.5,1069.2 L1009.7,1066.6 L1010.5,1053.8 L1011.4,1066.4 L1012.2,1049.4 L1013.1,1060.2 L1013.9,1047.3 L1014.3,1041.5 L1014.8,1062.5 L1014.8,1061.5 L1015.6,1039.2 L1016.5,1054.0 L1017.3,1035.2 L1018.2,1050.6 L1019.0,1037.5 L1019.9,1055.6 L1020.7,1028.3 L1021.6,1048.5 L1022.3,1024.8 L1022.4,1025.2 L1022.8,1051.9 L1023.3,1052.4 L1024.1,1031.5 L1025.0,1050.5 L1025.8,1032.0 L1026.7,1052.4 L1027.5,1029.6 L1028.4,1048.5 L1029.0,1029.5 L1029.2,1029.4 L1029.5,1051.9 L1030.1,1056.2 L1030.9,1039.2 L1031.8,1056.9 L1032.6,1048.1 L1033.5,1070.3 L1034.3,1046.8 L1034.3,1049.0 L1034.8,1073.2 L1035.2,1066.1 L1036.0,1045.4 L1036.9,1062.0 L1037.7,1039.8 L1038.3,1038.8 L1038.6,1061.7 L1038.8,1061.2 L1039.4,1036.9 L1040.3,1060.3 L1041.1,1037.7 L1042.0,1056.1 L1042.8,1035.9 L1043.7,1057.0 L1044.5,1031.2 L1045.4,1055.3 L1046.2,1034.7 L1047.1,1046.5 L1047.7,1027.5 L1047.9,1034.8 L1048.2,1053.2 L1048.8,1057.3 L1049.6,1034.7 L1050.5,1056.2 L1051.3,1043.9 L1051.7,1044.1 L1052.2,1066.5 L1052.2,1063.4 L1053.0,1045.3 L1053.9,1069.8 L1054.7,1047.9 L1055.6,1073.9 L1056.4,1049.9 L1057.3,1080.7 L1058.1,1052.4 L1058.3,1046.8 L1058.8,1082.5 L1059.0,1073.7 L1059.8,1047.4 L1060.7,1075.7 L1061.5,1052.9 L1062.4,1073.1 L1063.2,1048.6 L1064.1,1071.4 L1064.9,1051.0 L1065.0,1049.5 L1065.5,1069.2 L1065.8,1070.4 L1066.6,1054.3 L1067.5,1066.4 L1068.3,1052.8 L1069.2,1066.5 L1070.0,1052.3 L1070.3,1049.5 L1070.8,1071.9 L1070.9,1070.1 L1071.7,1049.4 L1072.6,1067.0 L1073.4,1050.1 L1074.3,1061.7 L1075.1,1040.2 L1076.0,1057.9 L1076.3,1037.5 L1076.8,1063.9 L1076.8,1043.8 L1077.6,1063.2 L1078.5,1050.2 L1079.3,1072.1 L1080.2,1056.8 L1081.0,1053.5 L1081.0,1072.5 L1081.5,1078.5 L1081.9,1054.5 L1082.7,1067.8 L1083.6,1049.9 L1084.4,1064.8 L1085.0,1041.5 L1085.3,1046.2 L1085.5,1063.9 L1086.1,1064.6 L1087.0,1050.5 L1087.7,1053.5 L1088.2,1063.9" fill="none" stroke="#9370db" stroke-width="2.40" stroke-linejoin="round" stroke-linecap="butt"/>
<path d="M816.0,1065.5 L1087.5,1065.5" fill="none" stroke="#ff0000" stroke-width="2.50" stroke-linejoin="round" stroke-linecap="butt" stroke-dasharray="15.9 3.97 2.48 3.97"/>
</g>
<rect x="802.50" y="850.00" width="298.20" height="238.50" fill="none" stroke="#000" stroke-width="1.67" stroke-linejoin="miter"/>
<line x1="811.19" y1="1088.50" x2="811.19" y2="1092.20" stroke="#000" stroke-width="1.25"/>
<line x1="847.40" y1="1088.50" x2="847.40" y2="1092.20" stroke="#000" stroke-width="1.25"/>
<line x1="873.08" y1="1088.50" x2="873.08" y2="1092.20" stroke="#000" stroke-width="1.25"/>
<line x1="893.01" y1="1088.50" x2="893.01" y2="1092.20" stroke="#000" stroke-width="1.25"/>
<line x1="909.29" y1="1088.50" x2="909.29" y2="1092.20" stroke="#000" stroke-width="1.25"/>
<line x1="923.05" y1="1088.50" x2="923.05" y2="1092.20" stroke="#000" stroke-width="1.25"/>
<line x1="934.98" y1="1088.50" x2="934.98" y2="1092.20" stroke="#000" stroke-width="1.25"/>
<line x1="945.49" y1="1088.50" x2="945.49" y2="1092.20" stroke="#000" stroke-width="1.25"/>
<line x1="954.90" y1="1088.50" x2="954.90" y2="1094.40" stroke="#000" stroke-width="1.67"/>
<line x1="1016.79" y1="1088.50" x2="1016.79" y2="1092.20" stroke="#000" stroke-width="1.25"/>
<line x1="1053.00" y1="1088.50" x2="1053.00" y2="1092.20" stroke="#000" stroke-width="1.25"/>
<line x1="1078.68" y1="1088.50" x2="1078.68" y2="1092.20" stroke="#000" stroke-width="1.25"/>
<line x1="1098.61" y1="1088.50" x2="1098.61" y2="1092.20" stroke="#000" stroke-width="1.25"/>
<line x1="796.60" y1="1065.50" x2="802.50" y2="1065.50" stroke="#000" stroke-width="1.67"/>
<line x1="798.80" y1="914.89" x2="802.50" y2="914.89" stroke="#000" stroke-width="1.25"/>
<text x="727.01" y="1079.32" font-size="38.70" textLength="45.18" lengthAdjust="spacingAndGlyphs" style="font-family:&quot;Liberation Sans&quot;,sans-serif;stroke:#000;stroke-width:0.45px;" fill="#000">10</text>
<text x="772.97" y="1065.04" font-size="27.12" textLength="16.06" lengthAdjust="spacingAndGlyphs" style="font-family:&quot;Liberation Sans&quot;,sans-serif;stroke:#000;stroke-width:0.45px;" fill="#000">0</text>
<text x="661.01" y="929.09" font-size="39.53" textLength="21.97" lengthAdjust="spacingAndGlyphs" style="font-family:&quot;Liberation Sans&quot;,sans-serif;stroke:#000;stroke-width:0.45px;" fill="#000">2</text>
<text x="693.08" y="932.39" font-size="45.49" textLength="27.12" lengthAdjust="spacingAndGlyphs" style="font-family:&quot;Liberation Sans&quot;,sans-serif;stroke:#000;stroke-width:0.45px;" fill="#000">×</text>
<text x="729.94" y="928.71" font-size="38.98" textLength="44.62" lengthAdjust="spacingAndGlyphs" style="font-family:&quot;Liberation Sans&quot;,sans-serif;stroke:#000;stroke-width:0.45px;" fill="#000">10</text>
<text x="775.94" y="914.44" font-size="26.55" textLength="15.12" lengthAdjust="spacingAndGlyphs" style="font-family:&quot;Liberation Sans&quot;,sans-serif;stroke:#000;stroke-width:0.45px;" fill="#000">0</text>
<text x="922.35" y="1127.93" font-size="37.85" textLength="45.96" lengthAdjust="spacingAndGlyphs" style="font-family:&quot;Liberation Sans&quot;,sans-serif;stroke:#000;stroke-width:0.45px;" fill="#000">10</text>
<text x="968.34" y="1113.45" font-size="25.14" textLength="16.89" lengthAdjust="spacingAndGlyphs" style="font-family:&quot;Liberation Sans&quot;,sans-serif;stroke:#000;stroke-width:0.45px;" fill="#000">3</text>
<rect x="201.00" y="501.60" width="287.20" height="190.40" rx="6.5" ry="6.5" fill="#fff" fill-opacity="0.8" stroke="#cccccc" stroke-width="1.67"/>
<path d="M214.6,539.6 L288.4,539.6" fill="none" stroke="#ff4500" stroke-width="2.50" stroke-linejoin="round" stroke-linecap="butt"/>
<path d="M214.6,602.2 L288.4,602.2" fill="none" stroke="#800080" stroke-width="2.50" stroke-linejoin="round" stroke-linecap="butt"/>
<path d="M215.1,657.0 L288.0,657.0" fill="none" stroke="#000" stroke-width="2.50" stroke-linejoin="round" stroke-linecap="butt" stroke-dasharray="15.9 3.97 2.48 3.97"/>
<rect x="200.90" y="1245.90" width="325.80" height="231.80" rx="6.5" ry="6.5" fill="#fff" fill-opacity="0.8" stroke="#cccccc" stroke-width="1.67"/>
<path d="M214.6,1280.7 L288.4,1280.7" fill="none" stroke="#ff7f50" stroke-width="2.50" stroke-linejoin="round" stroke-linecap="butt"/>
<path d="M214.6,1335.2 L288.4,1335.2" fill="none" stroke="#9370db" stroke-width="2.50" stroke-linejoin="round" stroke-linecap="butt"/>
<path d="M215.1,1389.6 L288.0,1389.6" fill="none" stroke="#000" stroke-width="2.50" stroke-linejoin="round" stroke-linecap="butt" stroke-dasharray="15.9 3.97 2.48 3.97"/>
<path d="M215.1,1442.8 L288.0,1442.8" fill="none" stroke="#ff0000" stroke-width="2.50" stroke-linejoin="round" stroke-linecap="butt" stroke-dasharray="15.9 3.97 2.48 3.97"/>
<rect x="317.90" y="518.70" width="31.40" height="1.80" fill="#000"/>
<text x="317.11" y="551.60" font-size="38.52" textLength="32.19" lengthAdjust="spacingAndGlyphs" style="font-family:&quot;Liberation Sans&quot;,sans-serif;font-style:italic;stroke:#000;stroke-width:0.45px;" fill="#000">M</text>
<text x="348.62" y="548.93" font-size="34.54" textLength="11.60" lengthAdjust="spacingAndGlyphs" style="font-family:&quot;Liberation Sans&quot;,sans-serif;stroke:#000;stroke-width:0.45px;" fill="#000">[</text>
<text x="363.11" y="551.23" font-size="37.91" textLength="23.48" lengthAdjust="spacingAndGlyphs" style="font-family:&quot;Liberation Sans&quot;,sans-serif;font-style:italic;stroke:#000;stroke-width:0.45px;" fill="#000">σ</text>
<text x="387.88" y="538.00" font-size="27.07" textLength="15.75" lengthAdjust="spacingAndGlyphs" style="font-family:&quot;Liberation Sans&quot;,sans-serif;stroke:#000;stroke-width:0.45px;" fill="#000">2</text>
<text x="406.71" y="548.94" font-size="34.56" textLength="12.31" lengthAdjust="spacingAndGlyphs" style="font-family:&quot;Liberation Sans&quot;,sans-serif;stroke:#000;stroke-width:0.45px;" fill="#000">(</text>
<text x="418.81" y="551.37" font-size="37.23" textLength="25.68" lengthAdjust="spacingAndGlyphs" style="font-family:&quot;Liberation Sans&quot;,sans-serif;font-style:italic;stroke:#000;stroke-width:0.45px;" fill="#000">ϕ</text>
<text x="445.00" y="548.94" font-size="34.56" textLength="11.43" lengthAdjust="spacingAndGlyphs" style="font-family:&quot;Liberation Sans&quot;,sans-serif;stroke:#000;stroke-width:0.45px;" fill="#000">)</text>
<text x="460.77" y="548.93" font-size="34.54" textLength="11.60" lengthAdjust="spacingAndGlyphs" style="font-family:&quot;Liberation Sans&quot;,sans-serif;stroke:#000;stroke-width:0.45px;" fill="#000">]</text>
<rect x="317.90" y="581.50" width="31.40" height="1.80" fill="#000"/>
<text x="317.12" y="614.60" font-size="38.81" textLength="31.88" lengthAdjust="spacingAndGlyphs" style="font-family:&quot;Liberation Sans&quot;,sans-serif;font-style:italic;stroke:#000;stroke-width:0.45px;" fill="#000">M</text>
<text x="348.62" y="611.91" font-size="34.65" textLength="11.60" lengthAdjust="spacingAndGlyphs" style="font-family:&quot;Liberation Sans&quot;,sans-serif;stroke:#000;stroke-width:0.45px;" fill="#000">[</text>
<path transform="matrix(0.36455 0 0 0.34918 363.63 613.84)" d="M68.00 -1.81 L70.41 -1.81 Q68.91 2.89 66.41 5.89 Q63.91 8.89 60.34 10.19 Q56.80 11.50 54.00 11.84 Q51.20 12.19 47.20 12.19 Q41.59 12.19 31.19 8.48 Q20.80 4.80 19.80 4.59 Q12.50 2.69 7.41 2.69 L7.41 0.30 Q12.50 -1.61 17.59 -2.80 Q22.70 -4.00 27.95 -4.75 Q33.20 -5.50 34.20 -5.70 Q44.70 -7.81 51.64 -17.50 Q58.59 -27.20 58.59 -39.31 Q58.59 -43.20 58.44 -45.95 Q58.30 -48.70 57.44 -52.41 Q56.59 -56.11 55.09 -58.36 Q53.59 -60.61 50.69 -62.25 Q47.80 -63.91 43.70 -63.91 Q31.20 -63.91 22.95 -53.50 Q14.70 -43.11 14.70 -29.41 Q14.70 -22.91 18.84 -18.91 Q23.00 -14.91 29.20 -14.91 Q36.70 -14.91 42.00 -19.11 L43.41 -17.31 Q39.91 -13.91 34.34 -11.91 Q28.80 -9.91 22.70 -9.91 Q12.30 -9.91 7.30 -16.70 Q4.30 -20.91 4.30 -26.31 Q4.30 -36.70 10.25 -46.45 Q16.20 -56.20 25.75 -62.09 Q35.30 -68.00 45.50 -68.00 Q57.20 -68.00 63.25 -61.09 Q69.30 -54.20 69.30 -43.70 Q69.30 -31.70 62.84 -21.45 Q56.41 -11.20 44.91 -5.41 Q37.91 -1.91 30.80 -0.91 L30.70 -0.50 Q32.70 0.09 37.95 2.19 Q43.20 4.30 47.45 5.59 Q51.70 6.89 54.91 6.89 Q60.20 6.89 63.59 4.28 Q67.00 1.69 68.00 -1.81 Z" fill="#000" stroke="#000" stroke-width="1.146"/>
<text x="392.31" y="611.92" font-size="34.67" textLength="12.31" lengthAdjust="spacingAndGlyphs" style="font-family:&quot;Liberation Sans&quot;,sans-serif;stroke:#000;stroke-width:0.45px;" fill="#000">(</text>
<text x="404.56" y="614.15" font-size="37.33" textLength="24.77" lengthAdjust="spacingAndGlyphs" style="font-family:&quot;Liberation Sans&quot;,sans-serif;font-style:italic;stroke:#000;stroke-width:0.45px;" fill="#000">ϕ</text>
<text x="430.69" y="611.92" font-size="34.67" textLength="11.81" lengthAdjust="spacingAndGlyphs" style="font-family:&quot;Liberation Sans&quot;,sans-serif;stroke:#000;stroke-width:0.45px;" fill="#000">)</text>
<text x="445.67" y="611.91" font-size="34.65" textLength="11.60" lengthAdjust="spacingAndGlyphs" style="font-family:&quot;Liberation Sans&quot;,sans-serif;stroke:#000;stroke-width:0.45px;" fill="#000">]</text>
<text x="317.58" y="669.62" font-size="38.42" textLength="75.61" lengthAdjust="spacingAndGlyphs" style="font-family:&quot;Liberation Sans&quot;,sans-serif;stroke:#000;stroke-width:0.45px;" fill="#000">CRB</text>
<path transform="matrix(0.38074 0 0 0.35256 316.90 1292.99)" d="M8.94 -31.47 L22.70 -76.00 L31.00 -76.00 L17.23 -31.47 L31.00 13.06 L22.70 13.06 L8.94 -31.47 Z" fill="#000" stroke="#000" stroke-width="1.135"/>
<path transform="matrix(0.38236 0 0 0.33942 331.27 1292.98)" d="M111.30 -6.31 L112.80 -4.41 Q108.00 2.30 98.59 2.30 Q97.00 2.30 95.25 1.73 Q93.50 1.19 91.64 -0.72 Q89.80 -2.61 89.80 -5.70 Q89.80 -6.91 90.30 -11.11 L94.70 -50.61 L94.41 -50.61 L53.20 -1.70 L51.70 -1.70 Q41.91 -22.50 37.70 -42.31 L37.59 -42.31 Q37.50 -41.70 36.64 -38.25 Q35.80 -34.81 35.39 -33.11 Q35.00 -31.41 34.05 -27.86 Q33.09 -24.31 32.19 -21.81 Q31.30 -19.31 30.09 -16.16 Q28.91 -13.00 27.50 -10.16 Q26.09 -7.31 24.50 -4.81 Q19.20 3.59 12.70 3.59 Q9.00 3.59 6.50 1.14 Q4.00 -1.31 4.00 -4.81 Q4.00 -7.50 5.39 -9.16 Q6.80 -10.81 9.30 -10.81 Q10.91 -10.81 12.00 -9.91 Q13.09 -9.00 13.55 -7.95 Q14.00 -6.91 14.80 -6.00 Q15.59 -5.11 16.59 -5.11 Q19.91 -5.11 22.59 -9.81 Q24.30 -12.81 26.14 -17.91 Q28.00 -23.00 29.39 -27.95 Q30.80 -32.91 32.44 -39.70 Q34.09 -46.50 34.94 -50.70 Q35.80 -54.91 37.05 -60.91 Q38.30 -66.91 38.50 -68.00 L41.50 -68.00 Q45.80 -49.91 49.50 -37.30 Q53.20 -24.70 58.41 -14.00 L104.09 -68.00 L106.80 -68.00 L100.70 -12.31 Q100.50 -10.50 100.50 -9.41 Q100.50 -3.61 104.91 -3.61 Q108.59 -3.61 111.30 -6.31 Z" fill="#000" stroke="#000" stroke-width="1.178"/>
<text x="374.19" y="1290.61" font-size="33.69" textLength="11.74" lengthAdjust="spacingAndGlyphs" style="font-family:&quot;Liberation Sans&quot;,sans-serif;stroke:#000;stroke-width:0.45px;" fill="#000">[</text>
<text x="389.01" y="1293.84" font-size="36.43" textLength="23.38" lengthAdjust="spacingAndGlyphs" style="font-family:&quot;Liberation Sans&quot;,sans-serif;font-style:italic;stroke:#000;stroke-width:0.45px;" fill="#000">σ</text>
<text x="413.15" y="1279.30" font-size="26.78" textLength="14.89" lengthAdjust="spacingAndGlyphs" style="font-family:&quot;Liberation Sans&quot;,sans-serif;stroke:#000;stroke-width:0.45px;" fill="#000">2</text>
<text x="431.90" y="1290.62" font-size="33.70" textLength="11.81" lengthAdjust="spacingAndGlyphs" style="font-family:&quot;Liberation Sans&quot;,sans-serif;stroke:#000;stroke-width:0.45px;" fill="#000">(</text>
<text x="443.83" y="1293.02" font-size="37.01" textLength="25.34" lengthAdjust="spacingAndGlyphs" style="font-family:&quot;Liberation Sans&quot;,sans-serif;font-style:italic;stroke:#000;stroke-width:0.45px;" fill="#000">ϕ</text>
<text x="470.29" y="1290.62" font-size="33.70" textLength="11.81" lengthAdjust="spacingAndGlyphs" style="font-family:&quot;Liberation Sans&quot;,sans-serif;stroke:#000;stroke-width:0.45px;" fill="#000">)</text>
<text x="484.13" y="1290.61" font-size="33.69" textLength="13.14" lengthAdjust="spacingAndGlyphs" style="font-family:&quot;Liberation Sans&quot;,sans-serif;stroke:#000;stroke-width:0.45px;" fill="#000">]</text>
<path transform="matrix(0.38074 0 0 0.35256 496.45 1292.99)" d="M30.08 -31.47 L16.31 13.06 L8.02 13.06 L21.78 -31.47 L8.02 -76.00 L16.31 -76.00 L30.08 -31.47 Z" fill="#000" stroke="#000" stroke-width="1.135"/>
<path transform="matrix(0.38074 0 0 0.35593 316.90 1347.35)" d="M8.94 -31.47 L22.70 -76.00 L31.00 -76.00 L17.23 -31.47 L31.00 13.06 L22.70 13.06 L8.94 -31.47 Z" fill="#000" stroke="#000" stroke-width="1.124"/>
<path transform="matrix(0.38236 0 0 0.34640 331.27 1347.56)" d="M111.30 -6.31 L112.80 -4.41 Q108.00 2.30 98.59 2.30 Q97.00 2.30 95.25 1.73 Q93.50 1.19 91.64 -0.72 Q89.80 -2.61 89.80 -5.70 Q89.80 -6.91 90.30 -11.11 L94.70 -50.61 L94.41 -50.61 L53.20 -1.70 L51.70 -1.70 Q41.91 -22.50 37.70 -42.31 L37.59 -42.31 Q37.50 -41.70 36.64 -38.25 Q35.80 -34.81 35.39 -33.11 Q35.00 -31.41 34.05 -27.86 Q33.09 -24.31 32.19 -21.81 Q31.30 -19.31 30.09 -16.16 Q28.91 -13.00 27.50 -10.16 Q26.09 -7.31 24.50 -4.81 Q19.20 3.59 12.70 3.59 Q9.00 3.59 6.50 1.14 Q4.00 -1.31 4.00 -4.81 Q4.00 -7.50 5.39 -9.16 Q6.80 -10.81 9.30 -10.81 Q10.91 -10.81 12.00 -9.91 Q13.09 -9.00 13.55 -7.95 Q14.00 -6.91 14.80 -6.00 Q15.59 -5.11 16.59 -5.11 Q19.91 -5.11 22.59 -9.81 Q24.30 -12.81 26.14 -17.91 Q28.00 -23.00 29.39 -27.95 Q30.80 -32.91 32.44 -39.70 Q34.09 -46.50 34.94 -50.70 Q35.80 -54.91 37.05 -60.91 Q38.30 -66.91 38.50 -68.00 L41.50 -68.00 Q45.80 -49.91 49.50 -37.30 Q53.20 -24.70 58.41 -14.00 L104.09 -68.00 L106.80 -68.00 L100.70 -12.31 Q100.50 -10.50 100.50 -9.41 Q100.50 -3.61 104.91 -3.61 Q108.59 -3.61 111.30 -6.31 Z" fill="#000" stroke="#000" stroke-width="1.155"/>
<text x="374.19" y="1344.94" font-size="34.01" textLength="11.74" lengthAdjust="spacingAndGlyphs" style="font-family:&quot;Liberation Sans&quot;,sans-serif;stroke:#000;stroke-width:0.45px;" fill="#000">[</text>
<path transform="matrix(0.36606 0 0 0.36041 388.73 1347.61)" d="M68.00 -1.81 L70.41 -1.81 Q68.91 2.89 66.41 5.89 Q63.91 8.89 60.34 10.19 Q56.80 11.50 54.00 11.84 Q51.20 12.19 47.20 12.19 Q41.59 12.19 31.19 8.48 Q20.80 4.80 19.80 4.59 Q12.50 2.69 7.41 2.69 L7.41 0.30 Q12.50 -1.61 17.59 -2.80 Q22.70 -4.00 27.95 -4.75 Q33.20 -5.50 34.20 -5.70 Q44.70 -7.81 51.64 -17.50 Q58.59 -27.20 58.59 -39.31 Q58.59 -43.20 58.44 -45.95 Q58.30 -48.70 57.44 -52.41 Q56.59 -56.11 55.09 -58.36 Q53.59 -60.61 50.69 -62.25 Q47.80 -63.91 43.70 -63.91 Q31.20 -63.91 22.95 -53.50 Q14.70 -43.11 14.70 -29.41 Q14.70 -22.91 18.84 -18.91 Q23.00 -14.91 29.20 -14.91 Q36.70 -14.91 42.00 -19.11 L43.41 -17.31 Q39.91 -13.91 34.34 -11.91 Q28.80 -9.91 22.70 -9.91 Q12.30 -9.91 7.30 -16.70 Q4.30 -20.91 4.30 -26.31 Q4.30 -36.70 10.25 -46.45 Q16.20 -56.20 25.75 -62.09 Q35.30 -68.00 45.50 -68.00 Q57.20 -68.00 63.25 -61.09 Q69.30 -54.20 69.30 -43.70 Q69.30 -31.70 62.84 -21.45 Q56.41 -11.20 44.91 -5.41 Q37.91 -1.91 30.80 -0.91 L30.70 -0.50 Q32.70 0.09 37.95 2.19 Q43.20 4.30 47.45 5.59 Q51.70 6.89 54.91 6.89 Q60.20 6.89 63.59 4.28 Q67.00 1.69 68.00 -1.81 Z" fill="#000" stroke="#000" stroke-width="1.110"/>
<text x="414.98" y="1344.96" font-size="34.03" textLength="12.43" lengthAdjust="spacingAndGlyphs" style="font-family:&quot;Liberation Sans&quot;,sans-serif;stroke:#000;stroke-width:0.45px;" fill="#000">(</text>
<text x="428.93" y="1347.12" font-size="37.01" textLength="25.34" lengthAdjust="spacingAndGlyphs" style="font-family:&quot;Liberation Sans&quot;,sans-serif;font-style:italic;stroke:#000;stroke-width:0.45px;" fill="#000">ϕ</text>
<text x="455.39" y="1344.96" font-size="34.03" textLength="11.68" lengthAdjust="spacingAndGlyphs" style="font-family:&quot;Liberation Sans&quot;,sans-serif;stroke:#000;stroke-width:0.45px;" fill="#000">)</text>
<text x="470.17" y="1344.94" font-size="34.01" textLength="11.74" lengthAdjust="spacingAndGlyphs" style="font-family:&quot;Liberation Sans&quot;,sans-serif;stroke:#000;stroke-width:0.45px;" fill="#000">]</text>
<path transform="matrix(0.38074 0 0 0.35593 481.45 1347.35)" d="M30.08 -31.47 L16.31 13.06 L8.02 13.06 L21.78 -31.47 L8.02 -76.00 L16.31 -76.00 L30.08 -31.47 Z" fill="#000" stroke="#000" stroke-width="1.124"/>
<text x="317.58" y="1402.22" font-size="38.42" textLength="75.50" lengthAdjust="spacingAndGlyphs" style="font-family:&quot;Liberation Sans&quot;,sans-serif;stroke:#000;stroke-width:0.45px;" fill="#000">CRB</text>
<text x="318.34" y="1455.50" font-size="38.64" textLength="19.89" lengthAdjust="spacingAndGlyphs" style="font-family:&quot;Liberation Sans&quot;,sans-serif;font-style:italic;stroke:#000;stroke-width:0.45px;" fill="#000">k</text>
<rect x="349.7" y="1440.6" width="4.0" height="4.0" fill="#000"/>
<text x="364.79" y="1455.42" font-size="39.12" textLength="75.29" lengthAdjust="spacingAndGlyphs" style="font-family:&quot;Liberation Sans&quot;,sans-serif;stroke:#000;stroke-width:0.45px;" fill="#000">CRB</text>
</svg></body></html>
